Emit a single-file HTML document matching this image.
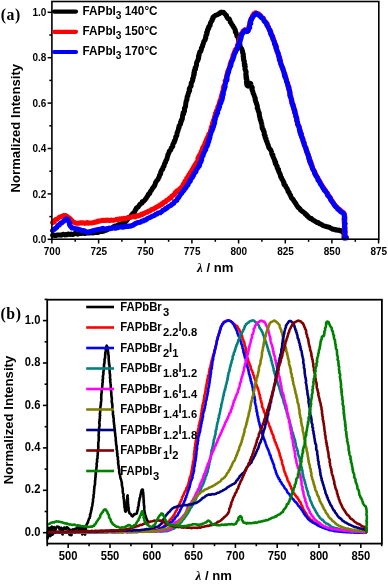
<!DOCTYPE html>
<html><head><meta charset="utf-8"><title>PL spectra</title><style>
*{margin:0;padding:0}
html,body{width:388px;height:585px;background:#fff;overflow:hidden}
svg{display:block;filter:blur(0.35px)}
text{font-family:"Liberation Sans",Arial,sans-serif;font-weight:bold;fill:#000}
.tka{font-size:9.6px}
.tkb{font-size:11.2px}
.lga{font-size:11.4px}
.suba{font-size:9px}
.lgb{font-size:11.2px}
.subb{font-size:9px}
.pl{font-family:"Liberation Serif","Times New Roman",serif;font-size:15px;font-weight:bold}
.yla{font-size:12.8px}
.ylb{font-size:11.4px}
.xla{font-size:12px}
.xlb{font-size:12px}
.lam{font-family:"Liberation Serif",serif;font-style:italic;font-weight:bold}
</style></head>
<body><svg width="388" height="585" viewBox="0 0 388 585">
<path d="M52.6 235.4 L53.7 235 L54.8 235.6 L55.9 235.5 L57 234.9 L58.1 235.1 L59.2 235 L60.3 235.1 L61.4 235.2 L62.5 234.5 L63.6 234.3 L64.7 235 L65.8 234.5 L66.9 234.8 L67.9 234 L69.1 234.3 L70.2 234.5 L71.2 234 L72.4 234.5 L73.5 234.4 L74.5 233.6 L75.6 233.5 L76.8 233.9 L77.9 234.2 L78.9 233.6 L80 233.4 L81.1 233.6 L82.2 233.2 L83.3 233.3 L84.4 233.4 L85.5 233.4 L86.6 233.1 L87.7 233 L88.8 232.9 L89.9 233 L91 232.8 L92.1 232.4 L93.2 233 L94.3 232.6 L95.4 232.6 L96.4 232 L97.6 232.5 L98.7 232.2 L99.7 231.4 L100.8 231.4 L101.9 231.5 L103 231.2 L104.1 231 L105 230.2 L106.2 230.2 L107.2 229.7 L108.1 229 L109.2 228.8 L110.3 228.6 L111.3 228.2 L112.2 227.5 L113.2 227.1 L114.1 226.3 L115.2 226 L116.4 226.1 L117.3 225.4 L118.2 224.7 L119.3 224.6 L120.4 224.3 L121.4 223.9 L122.3 223.2 L123.3 222.8 L124.3 222.3 L125.4 221.9 L126.2 221.1 L126.9 220.2 L127.6 219.5 L128 218.3 L128.6 217.5 L129.8 217 L130.7 216.4 L131.3 215.4 L132 214.5 L132.6 213.6 L133.5 213 L134.5 212.2 L134.9 211.2 L135.2 210.1 L136 209.4 L136.3 208.2 L137.2 207.5 L138.2 207 L138.8 206 L139.5 205.1 L140.1 204.2 L141.1 203.6 L142.1 203.1 L142.2 201.7 L143.5 201.3 L144.3 200.6 L145 199.8 L145.7 198.8 L146.4 198 L146.9 197 L147.6 196.1 L148.1 195.2 L148.4 194.1 L149.7 193.6 L150 192.5 L150.4 191.4 L151.2 190.6 L151.8 189.7 L152.3 188.7 L152.9 187.8 L153.6 187 L154.3 186.1 L154.8 185.1 L155.2 184.1 L155.4 182.9 L156 182 L156.5 181 L157.3 180.2 L158 179.3 L158.4 178.3 L158.9 177.3 L159.4 176.3 L159.5 175.1 L160.4 174.4 L160.7 173.3 L160.7 172.1 L161.2 171.1 L161.6 170.1 L162.7 169.4 L162.8 168.2 L163.1 167.1 L164 166.3 L164.2 165.2 L164.4 164.1 L164.9 163.1 L165.6 162.2 L165.7 161.1 L166.2 160.1 L166.9 159.2 L167.1 158.1 L167.3 157 L167.8 156 L167.8 154.8 L168.5 153.9 L168.9 152.9 L169.2 151.8 L169.6 150.8 L170.7 150.1 L171 149 L171.3 147.9 L172.2 147.1 L172.8 146.2 L172.7 144.9 L173.1 143.9 L173.6 143 L174.4 142.1 L174.3 140.9 L175.1 140 L175.4 139 L175.7 137.9 L175.7 136.8 L176.7 135.9 L176.9 134.8 L177 133.7 L177.1 132.6 L177.8 131.6 L177.9 130.5 L178.4 129.5 L178.5 128.4 L179.1 127.4 L179 126.2 L179.5 125.3 L180.4 124.4 L180.7 123.3 L180.6 122.1 L181.4 121.3 L181.3 120.1 L182.2 119.2 L182.4 118.1 L182.4 116.9 L182.6 115.9 L182.7 114.7 L183.7 113.9 L183.2 112.6 L184.2 111.7 L184.6 110.7 L184.5 109.5 L184.4 108.4 L185.2 107.4 L185.6 106.4 L185.6 105.3 L185.7 104.2 L185.8 103.1 L186.1 102 L186.2 100.9 L186.9 99.9 L187 98.8 L187 97.7 L187.2 96.6 L188 95.7 L187.9 94.5 L188.4 93.5 L188.6 92.4 L189.3 91.5 L189.7 90.4 L189.2 89.2 L189.7 88.1 L190.1 87.1 L191 86.3 L191.2 85.1 L191.1 84 L191.3 82.9 L192 82 L192.5 80.9 L192.8 79.9 L192.6 78.7 L193.3 77.7 L193.4 76.6 L193.5 75.5 L194.2 74.6 L193.8 73.3 L194.5 72.4 L194.2 71.2 L194.6 70.1 L195.5 69.2 L195.1 68 L195.9 67.1 L196.1 66 L196.6 65 L196.4 63.8 L196.7 62.7 L197 61.6 L197.8 60.7 L197.9 59.6 L198.5 58.7 L198.7 57.6 L198.4 56.3 L199.1 55.4 L199.1 54.2 L199.4 53.2 L199.7 52.1 L200.8 51.3 L201 50.2 L201.4 49.2 L201.4 48 L202 47.1 L202.6 46.1 L202.6 45 L203.2 44 L203.4 42.9 L203.7 41.8 L204.2 40.9 L205.1 40 L205.2 38.9 L205.8 37.9 L205.7 36.7 L205.9 35.6 L206.6 34.7 L207 33.7 L206.6 32.4 L207.5 31.5 L207.4 30.3 L207.8 29.3 L208.8 28.5 L208.5 27.2 L209.1 26.3 L210.1 25.5 L210.2 24.3 L210.4 23.2 L210.9 22.3 L211.5 21.3 L212.2 20.4 L212.1 19.2 L213.1 18.4 L213 17.2 L213.9 16.5 L214.6 16 L215.5 15.4 L216.5 15 L217.5 14.6 L218.4 13.8 L219.6 13.7 L220.2 12.7 L221.2 12.1 L222.4 12.6 L223.5 12.3 L224.2 13.2 L224.9 14 L225.7 14.8 L226.5 15.5 L226.7 16.8 L227.3 17.7 L228 18.6 L229.3 19 L229.8 20 L230.1 21.1 L230.3 22.2 L231.2 23 L231.6 24 L232.2 25 L233 25.8 L233.3 26.9 L234 27.7 L234.5 28.7 L235.1 29.6 L235.4 30.7 L235.3 32 L236.1 32.8 L236.4 33.9 L236.7 34.9 L236.9 36.1 L237.7 36.9 L238.1 37.9 L238.4 39 L238.8 40.1 L238.6 41.2 L238.8 42.3 L239.6 43.3 L239.9 44.3 L240 45.4 L240.3 46.5 L240.6 47.5 L241.3 48.4 L241.9 49.4 L242.2 50.5 L242.6 51.5 L242.6 52.7 L243.2 53.7 L243.4 54.7 L243.1 55.9 L243.6 57 L243.3 58.1 L243.8 59.2 L243.6 60.3 L244.4 61.3 L244.3 62.4 L244.2 63.5 L245 64.5 L244.4 65.7 L245.3 66.7 L245 67.9 L244.9 69 L245.3 70.1 L245.9 71.1 L246.2 72.2 L245.9 73.3 L245.7 74.4 L246.3 75.5 L245.9 76.6 L246.7 77.6 L246.1 78.8 L247 79.8 L246.8 80.9 L246.4 82.1 L246.6 83.2 L246.7 84.3 L247 85.4 L247.9 86 L248.4 84.9 L248.6 83.6 L249.7 83.2 L250.8 83.6 L250.9 84.8 L251.2 85.9 L251.8 86.8 L252.3 87.9 L251.8 89.1 L252.2 90.2 L252.7 91.2 L253 92.2 L253.1 93.3 L253.7 94.3 L254.1 95.3 L254.4 96.4 L254.8 97.4 L255.3 98.4 L255.1 99.6 L255.6 100.6 L255.7 101.7 L256.4 102.7 L256.5 103.8 L257 104.8 L257.3 105.9 L257.4 107 L257.2 108.2 L257.9 109.1 L258.2 110.2 L258.3 111.3 L258.9 112.3 L259.3 113.3 L259.2 114.5 L259.5 115.5 L259.6 116.6 L260 117.7 L260.1 118.8 L260.3 119.9 L261 120.8 L261.1 121.9 L261.3 123 L261.8 124 L261.9 125.1 L262.1 126.2 L262.1 127.4 L262.3 128.4 L263.2 129.3 L263.2 130.5 L264 131.4 L264.3 132.5 L264.2 133.6 L264.2 134.8 L265.2 135.6 L265 136.8 L265.2 137.9 L266.1 138.8 L266.1 140 L266.4 141 L267.1 141.9 L267.3 143.1 L267.7 144.1 L268.2 145 L268.4 146.2 L268.8 147.2 L269.2 148.2 L270 149.1 L270.7 149.9 L271.1 151 L271.6 152 L271.7 153.1 L271.9 154.2 L272.9 155 L272.8 156.2 L273.2 157.3 L273.9 158.2 L274.1 159.3 L274.8 160.2 L274.7 161.4 L275.7 162.2 L275.3 163.5 L275.9 164.5 L276.5 165.4 L277.2 166.3 L277.1 167.6 L277.5 168.6 L278.6 169.3 L278.4 170.6 L278.8 171.6 L279.4 172.6 L279.7 173.6 L280.4 174.5 L280.4 175.7 L280.7 176.8 L281.6 177.6 L281.7 178.8 L282.4 179.6 L283 180.6 L283.3 181.6 L284 182.5 L283.8 183.8 L284.3 184.8 L285.5 185.4 L285.7 186.6 L286.3 187.5 L287.1 188.4 L287.4 189.4 L287.9 190.4 L288 191.6 L289.1 192.3 L289.4 193.3 L289.8 194.4 L290.6 195.2 L290.7 196.4 L291.3 197.3 L291.7 198.3 L292.8 199 L293.4 199.9 L293.8 200.9 L294.6 201.7 L295 202.8 L295.9 203.5 L296.3 204.6 L296.8 205.5 L297.5 206.4 L298.1 207.4 L299.1 208 L299.9 208.8 L300.4 209.8 L301.2 210.5 L302.1 211.2 L303 211.8 L303.9 212.5 L304.8 213.1 L305.3 214.3 L306.5 214.5 L307 215.7 L307.9 216.2 L308.6 217.2 L309.5 217.7 L310.3 218.6 L311.6 218.6 L312.3 219.6 L313.2 220.2 L314.2 220.6 L315.1 221.4 L316.1 221.8 L317 222.5 L318.2 222.5 L319 223.4 L320 223.9 L321 224.2 L322 224.7 L322.8 225.5 L323.9 225.9 L325 226.1 L326 226.6 L327.1 226.8 L328.2 227 L329.3 227.2 L330.2 227.8 L331.2 228.4 L332.1 229 L333.2 229.3 L334.3 229.3 L335.3 230 L336.5 229.8 L337.5 230.3 L338.7 230.1 L339.7 230.6 L340.7 231 L341.9 230.6 L343.1 231 L343.4 232.1 L343.6 233.2 L343.9 234.3 L344.3 235.3 L344 236.5 L344 237.6 L344 238" stroke="#000" stroke-width="5.0" fill="none" stroke-linejoin="round" stroke-linecap="round"/>
<path d="M52.6 222.6 L53.7 222.2 L54.5 221.4 L54.8 220.1 L55.7 219.4 L57 219.3 L57.8 218.6 L58.7 217.9 L59.4 217.1 L60.5 216.8 L61.6 216.4 L62.6 216.1 L63.6 215.5 L64.8 215.6 L65.9 215.6 L66.8 216.1 L67.6 216.8 L68.4 217.5 L69.4 218 L70.2 218.8 L70.9 219.7 L71.7 220.4 L72.4 221.1 L73 222 L74.1 222.3 L75.1 222.6 L76.1 223.3 L77.3 223.1 L78.4 223.3 L79.5 223 L80.6 222.8 L81.7 223 L82.7 222.8 L83.9 223 L85 223.4 L86.1 223.1 L87.1 222.6 L88.3 223.2 L89.4 223.1 L90.5 223 L91.6 223.1 L92.7 222.8 L93.8 222.6 L94.8 222 L96 222.2 L97 221.9 L97.9 221 L99.1 221.2 L100.2 221 L101.2 220.6 L102.3 220.5 L103.4 220.3 L104.5 220.6 L105.6 220.2 L106.7 220.4 L107.8 220 L108.9 220.4 L110 220.5 L111.1 220.1 L112.2 220.2 L113.3 220.4 L114.4 220.1 L115.5 219.8 L116.5 219.4 L117.6 219.3 L118.8 219.5 L119.8 218.8 L121 219.3 L122 218.6 L123.1 219 L124.1 218.3 L125.3 218.7 L126.4 218.3 L127.4 217.9 L128.5 217.7 L129.6 217.6 L130.7 217.3 L131.7 216.8 L132.8 216.5 L133.9 216.7 L135 216.9 L136.1 216.4 L137 215.6 L138.3 215.9 L139.3 215.5 L140.4 215.3 L141.2 214.3 L142.4 214.4 L143.2 213.4 L144.4 213.5 L145.3 212.7 L146.3 212.2 L147.5 212.3 L148.2 211.2 L149.3 211 L150.4 210.8 L151.2 209.8 L152.2 209.3 L153.4 209.3 L154.2 208.5 L155.3 208.2 L156 207.1 L157.1 206.9 L158 206.2 L159.1 206 L159.8 205 L161.2 205.1 L161.6 203.8 L162.9 203.7 L163.4 202.6 L164.5 202.1 L165.6 201.9 L166.2 200.7 L167.1 200.1 L168.2 199.8 L168.9 198.9 L169.6 198 L171 198 L171.4 196.7 L172.1 195.9 L173.1 195.3 L174 194.7 L174.8 193.9 L175.1 192.7 L176 192.1 L176.6 191.1 L177.7 190.6 L178.6 190 L179.4 189.2 L180.3 188.6 L181 187.7 L181.8 187 L182.5 186.1 L183 185.1 L183.4 184 L184.3 183.3 L184.6 182.2 L185 181.1 L185.8 180.4 L186.7 179.6 L186.7 178.3 L187.6 177.6 L188 176.5 L188.7 175.7 L189 174.5 L190.2 174 L190.2 172.7 L191.1 172 L191.6 171 L191.9 169.8 L192.9 169.2 L193.1 168.1 L193.7 167.1 L194.2 166.2 L194.8 165.3 L195.3 164.3 L196.1 163.5 L196.5 162.4 L197.3 161.6 L197.7 160.5 L198.1 159.5 L197.9 158.2 L198.5 157.3 L198.8 156.2 L199.5 155.3 L200 154.4 L200.7 153.5 L201.1 152.5 L201.3 151.3 L201.9 150.4 L202.5 149.4 L202.5 148.2 L203 147.3 L203.8 146.4 L204 145.3 L204.9 144.5 L205 143.3 L205.3 142.3 L205.8 141.3 L206.2 140.3 L206.6 139.3 L207.3 138.3 L207.7 137.3 L208 136.2 L208.7 135.3 L208.7 134.2 L209.7 133.4 L210.2 132.4 L210.4 131.3 L210.6 130.2 L211 129.2 L211.5 128.2 L211.3 127 L212 126 L212.4 125 L212.4 123.9 L212.6 122.8 L213.5 121.9 L213.4 120.7 L213.8 119.7 L214.5 118.7 L214.5 117.6 L214.6 116.5 L215.5 115.6 L215.4 114.4 L215.4 113.3 L216.4 112.4 L216.3 111.2 L216.8 110.2 L217.6 109.4 L217.9 108.3 L217.7 107 L218.4 106.1 L218.7 105.1 L219.2 104.1 L219.3 103 L220 102 L219.9 100.8 L220.4 99.9 L220.8 98.8 L221.6 97.9 L221.2 96.7 L222 95.7 L221.8 94.6 L222.4 93.6 L222.5 92.5 L222.8 91.4 L223.3 90.4 L223.3 89.3 L223.3 88.1 L223.6 87.1 L223.8 86 L224.8 85.1 L224.9 84 L225.4 83 L225.5 81.9 L225.1 80.7 L225.9 79.7 L226.3 78.7 L226.5 77.6 L226.6 76.5 L226.7 75.4 L227.1 74.3 L227.6 73.3 L227.5 72.2 L228 71.2 L228.3 70.1 L229.1 69.2 L229.3 68.1 L229.8 67.1 L230.1 66.1 L230 64.9 L230.3 63.8 L230.9 62.8 L231 61.7 L231.5 60.7 L232 59.8 L232.6 58.8 L232.6 57.6 L233.2 56.7 L233 55.4 L233.6 54.5 L234.5 53.7 L234.2 52.3 L234.9 51.4 L235.1 50.3 L235.6 49.3 L236.7 48.6 L237.3 47.7 L237.4 46.5 L237.4 45.4 L237.9 44.4 L238.3 43.3 L239 42.4 L239.3 41.4 L239.4 40.2 L239.8 39.2 L239.8 38.1 L240.5 37.1 L241.2 36.2 L241.4 35.1 L241.3 33.9 L242.1 33 L242.8 32.2 L243 31 L244.1 30.5 L244.7 29.8 L245.5 30.6 L246.3 31.2 L247.4 31.5 L248.1 30.4 L248.4 29.3 L248.5 28.1 L249.1 27.2 L249 26.1 L249.7 25.1 L250.2 24.1 L249.7 22.9 L250.2 21.8 L250.5 20.8 L250.7 19.7 L251.3 18.7 L251.9 17.8 L252.2 16.8 L252.5 15.7 L253.5 15 L253.7 13.8 L254.7 13.3 L255.6 12.8 L256.5 13.1 L257.3 13.7 L258.6 13.8 L259.3 14.7 L260.3 15.3 L260.9 16.2 L261.5 17.1 L262.4 17.8 L263.5 18.3 L263.8 19.5 L264.3 20.5 L264.8 21.5 L265.6 22.2 L266.1 23.2 L267.3 23.8 L267.1 25.2 L267.7 26.1 L268.3 27 L268.5 28.1 L268.9 29.1 L270 29.9 L269.8 31.1 L270.3 32.1 L271.2 32.9 L271.2 34.1 L271.7 35.1 L272.5 36 L272.3 37.2 L273.3 38 L273.3 39.2 L273.8 40.2 L274.3 41.2 L274.4 42.3 L274.9 43.3 L275.4 44.3 L275.1 45.5 L276.2 46.3 L276.6 47.4 L276.5 48.6 L276.6 49.7 L277 50.7 L277.3 51.8 L277.8 52.8 L278 53.9 L278.6 54.8 L278.9 55.9 L279 57 L279.8 57.9 L280 59 L279.7 60.2 L280.6 61.1 L280.4 62.3 L280.7 63.4 L281.3 64.3 L281.4 65.5 L281.7 66.5 L282 67.6 L282.9 68.4 L283.3 69.5 L283.4 70.6 L283.7 71.7 L284.2 72.7 L284.8 73.6 L284.7 74.8 L284.7 76 L285.6 76.8 L285.8 77.9 L286.2 78.9 L286.5 80 L286.5 81.2 L287.3 82.1 L287.4 83.2 L287.8 84.2 L288.1 85.3 L288.1 86.4 L289.1 87.3 L288.7 88.5 L289.4 89.5 L289.3 90.6 L289.4 91.7 L289.7 92.8 L290.1 93.8 L289.9 95 L290.8 95.9 L290.6 97.1 L291 98.1 L291.2 99.2 L291.2 100.4 L291.6 101.4 L292 102.4 L292.6 103.4 L293 104.4 L293.1 105.5 L293.6 106.5 L293.9 107.6 L293.6 108.8 L294.6 109.7 L294.3 110.9 L294.9 111.9 L295.2 113 L295.5 114 L296 115 L295.9 116.2 L296.4 117.2 L296.5 118.3 L296.9 119.3 L296.6 120.5 L296.9 121.6 L297.6 122.6 L297.7 123.7 L297.8 124.8 L298.6 125.7 L299.1 126.7 L299.3 127.8 L299.7 128.8 L299.6 130 L300.2 131 L300.5 132 L300.5 133.2 L301.3 134.1 L301.2 135.3 L301.7 136.3 L302.3 137.2 L302.3 138.4 L303 139.3 L302.9 140.5 L303.2 141.5 L303.9 142.5 L304.1 143.6 L304.3 144.7 L304.8 145.7 L305.1 146.7 L305.4 147.8 L305.7 148.8 L306.2 149.8 L306.3 150.9 L307.3 151.8 L307.3 152.9 L307.6 154 L308.2 154.9 L308.6 156 L309.1 157 L308.8 158.2 L309.6 159.1 L309.8 160.2 L309.8 161.4 L310.8 162.2 L310.5 163.5 L311.6 164.3 L312 165.3 L312.2 166.4 L312.6 167.4 L312.5 168.6 L313 169.6 L313.6 170.6 L314.3 171.4 L314.7 172.5 L315.4 173.3 L315.4 174.6 L316.3 175.4 L316.9 176.3 L317.1 177.4 L318 178.2 L318.4 179.2 L318.4 180.5 L319.6 181.1 L320.1 182 L320.6 183 L321.1 184 L321.6 185 L322.3 185.8 L322.8 186.8 L323.5 187.7 L324.2 188.6 L324.5 189.7 L325.3 190.4 L325.9 191.4 L326.2 192.5 L327.4 193 L327.9 194 L328 195.3 L328.9 196 L329.3 197.1 L330.4 197.6 L330.7 198.8 L331 199.8 L332 200.5 L332.3 201.6 L333 202.5 L333.7 203.3 L333.9 204.5 L335 205.1 L335.7 206 L336.3 206.9 L337.3 207.5 L337.8 208.6 L338.8 209.1 L339.7 209.7 L340.6 210.3 L341.3 211.2 L342.1 211.9 L343 212.5 L344 213.1 L344.3 214.2 L344.3 215.3 L344.8 216.4 L344.8 217.5 L344 218.6 L344.8 219.7 L344.1 220.8 L344.4 221.9 L344.2 223 L344.9 224.1 L344.7 225.2 L344.3 226.3 L345 227.4 L344.9 228.5 L344.7 229.6 L344.9 230.7 L344.9 231.8 L344.5 232.9 L345 234 L344.4 235.1 L344.9 236.2 L345.8 236.6 L346.2 237" stroke="#ff0000" stroke-width="5.0" fill="none" stroke-linejoin="round" stroke-linecap="round"/>
<path d="M52.6 230.6 L53.3 229.7 L54.4 229.3 L55.1 228.5 L56.1 228 L57 227.2 L57.4 226.1 L58.1 225.3 L59.4 225 L59.9 223.9 L60.7 223.2 L62 222.9 L62.5 221.9 L63.6 221.5 L64.2 220.5 L65.2 220 L65.8 218.9 L67 218.9 L67.6 219.4 L68.4 220.1 L68.6 221.2 L69 222.2 L69.8 223.2 L69.4 224.4 L69.8 225.4 L70.4 226.3 L71.2 226.9 L71.8 228 L73 227.9 L74 228.3 L75.1 228.6 L76.2 228.7 L77.2 229.2 L78.4 229 L79.3 229.7 L80.4 229.7 L81.4 230.5 L82.4 230.7 L83.7 230.5 L84.7 230.9 L85.7 231.4 L86.6 232.3 L87.8 231.9 L88.9 232 L89.9 231.5 L91 231.4 L92 230.9 L93.1 230.6 L94.2 230.5 L95.2 230.1 L96.4 230.1 L97.3 229.5 L98.5 229.5 L99.5 229.2 L100.6 229.1 L101.6 228.7 L102.7 228.2 L103.8 228.8 L104.9 228.9 L106 228.9 L107.1 228.5 L108.2 228.6 L109.3 228.1 L110.4 228.7 L111.5 228.4 L112.6 228 L113.6 227.7 L114.8 228.3 L115.9 228.2 L116.9 227.2 L118.1 227.7 L119.1 227.1 L120.2 226.8 L121.3 226.8 L122.4 227.2 L123.5 227.2 L124.5 226.3 L125.7 226.7 L126.7 226 L127.9 226.5 L128.9 225.9 L130.1 226.2 L131.2 226 L132.1 225.3 L133.4 225.3 L134.1 224.3 L135 223.6 L136.2 223.5 L137 222.7 L138.1 222.5 L139.3 222.4 L140.4 222.2 L141.2 221.4 L142.2 220.9 L143.5 221.1 L144.2 220.1 L145.5 220.1 L146.4 219.5 L147.2 218.6 L148.2 218.2 L149.2 217.8 L150.2 217.4 L151.2 216.8 L152.2 216.3 L153.2 215.9 L154.3 215.6 L155.1 214.8 L156 214.2 L157.1 214 L158 213.1 L159 212.7 L160.2 212.8 L161 211.9 L162 211.4 L162.7 210.4 L163.8 210.1 L164.8 209.6 L165.3 208.5 L166.5 208.3 L167.4 207.7 L168.1 206.6 L169.2 206.4 L170.1 205.7 L171.1 205.2 L171.8 204.3 L172.9 203.9 L173.8 203.2 L174.2 202 L175 201.3 L176.1 200.9 L177 200.2 L177.2 198.9 L178 198.2 L178.8 197.4 L179.2 196.3 L179.9 195.5 L180.5 194.5 L181.2 193.7 L182 192.9 L182.4 191.9 L183.2 191 L184.1 190.4 L184.2 189.1 L185.3 188.5 L186 187.7 L186.4 186.6 L186.9 185.6 L188 185 L188.2 183.8 L188.7 182.9 L189.5 182.1 L190.3 181.2 L190.3 180 L191 179.1 L191.6 178.2 L192.5 177.4 L192.7 176.3 L193.6 175.5 L193.6 174.3 L194.3 173.4 L195.1 172.6 L195.9 171.8 L196.1 170.6 L196.5 169.6 L197 168.6 L197.9 167.9 L198.2 166.8 L199.2 166.1 L199.7 165.1 L199.6 163.8 L200.1 162.8 L200.9 162 L201.2 160.9 L201.7 159.9 L201.6 158.7 L201.8 157.6 L202.3 156.6 L203.1 155.8 L203.1 154.6 L203.6 153.6 L204.1 152.6 L204.5 151.6 L204.9 150.6 L205.8 149.7 L205.6 148.4 L205.8 147.4 L207 146.7 L207.3 145.6 L207.8 144.6 L207.7 143.4 L208.4 142.5 L208.8 141.4 L208.5 140.2 L209.3 139.3 L209.7 138.3 L209.9 137.2 L210.1 136.1 L210.3 135 L210.7 134 L211 132.9 L211.2 131.8 L212 130.9 L212.1 129.8 L212.8 128.9 L212.5 127.6 L213.5 126.8 L213.6 125.7 L214.1 124.6 L214.4 123.6 L214.7 122.5 L214.7 121.4 L214.5 120.2 L215.4 119.3 L215.2 118.1 L215.6 117.1 L216.3 116.1 L216.5 115 L216.8 114 L217.6 113.1 L217.7 111.9 L217.8 110.8 L218.1 109.8 L218.9 108.9 L219 107.7 L219.6 106.8 L219.6 105.6 L219.8 104.5 L220.4 103.6 L221 102.6 L220.8 101.4 L221.7 100.5 L222.1 99.5 L222.3 98.4 L222.6 97.3 L222.2 96.1 L223 95.2 L223.4 94.1 L223 92.9 L223.4 91.9 L223.7 90.8 L224.2 89.8 L224.4 88.7 L224.7 87.7 L225.2 86.7 L224.8 85.4 L225.1 84.4 L225.4 83.3 L225.7 82.2 L225.9 81.2 L226.9 80.3 L227.1 79.2 L226.6 78 L227.2 77 L227.3 75.8 L227.6 74.8 L227.9 73.7 L228.4 72.7 L228.7 71.7 L228.8 70.6 L229 69.5 L229.5 68.4 L229.7 67.3 L230.4 66.4 L230.9 65.4 L231 64.3 L231.1 63.2 L231.5 62.2 L232 61.2 L232.5 60.2 L233 59.2 L233 58 L233.7 57.1 L233.9 56 L234.1 54.9 L234.5 53.9 L235 52.9 L235.6 52 L235.9 50.9 L236.6 50 L236.8 48.9 L237.1 47.8 L237.8 46.9 L238.4 46 L238.2 44.7 L238.9 43.8 L239.2 42.8 L239.9 41.8 L240.3 40.8 L240.2 39.6 L240.9 38.7 L241.2 37.6 L241.1 36.4 L241.6 35.4 L241.7 34.3 L242.7 33.5 L243.1 32.5 L243.9 31.7 L244.4 30.8 L245.1 30.2 L245.8 30.8 L246.6 31.6 L247.4 31.2 L248.3 30.7 L248.3 29.5 L248.9 28.5 L249.8 27.7 L249.4 26.5 L249.7 25.4 L249.9 24.3 L250.8 23.4 L250.3 22.2 L250.4 21.1 L251.4 20.2 L251.2 18.9 L252.2 18.2 L252.6 17.2 L253.3 16.3 L254 15.5 L254.5 14.5 L255.4 14.1 L256.4 13.3 L257.2 14.4 L258.2 14.8 L259.1 15.5 L260.3 15.7 L260.7 16.9 L261.4 17.8 L262.7 18.1 L263.2 19.1 L263.7 20.1 L264.1 21.2 L265.2 21.7 L265.9 22.6 L266.5 23.5 L266.8 24.7 L267.2 25.7 L268 26.5 L268.5 27.5 L268.9 28.5 L269.4 29.5 L269.8 30.5 L270.5 31.4 L270.5 32.6 L270.6 33.8 L271.5 34.6 L271.6 35.7 L272.5 36.5 L272.5 37.7 L272.8 38.8 L273.3 39.8 L273.8 40.8 L274.2 41.8 L274.4 42.9 L274.5 44 L275.5 44.8 L275.9 45.9 L275.7 47.1 L275.9 48.2 L276.6 49.1 L277 50.1 L277 51.3 L277.8 52.2 L278.1 53.3 L278.4 54.3 L278.4 55.5 L279 56.4 L279.3 57.5 L279.2 58.6 L279.3 59.8 L280.2 60.7 L280.2 61.8 L280.7 62.8 L280.7 64 L281.2 64.9 L281.8 65.9 L282.2 66.9 L282.7 67.9 L282.7 69.1 L283.1 70.1 L283.7 71.1 L283.9 72.2 L284.2 73.2 L284.2 74.4 L285.1 75.3 L284.7 76.5 L285.5 77.4 L285.8 78.5 L286.2 79.5 L286.3 80.7 L286.6 81.7 L287.2 82.7 L287.6 83.7 L287.7 84.8 L287.9 85.9 L288.6 86.8 L288.6 88 L288.7 89.1 L289.3 90.1 L289.8 91.1 L290 92.2 L289.8 93.3 L290 94.4 L289.9 95.6 L290.2 96.6 L291 97.6 L291.3 98.6 L291.5 99.7 L291.9 100.7 L291.7 101.9 L291.9 103 L292.2 104.1 L293.1 105 L292.8 106.2 L293.6 107.1 L293.8 108.2 L293.9 109.3 L294.7 110.2 L295 111.3 L294.6 112.5 L295.3 113.5 L295.6 114.6 L295.6 115.7 L295.8 116.8 L296.7 117.7 L296.7 118.8 L296.8 119.9 L297.1 121 L297.6 122 L297.6 123.1 L297.5 124.3 L298.3 125.2 L298.5 126.3 L299.2 127.3 L299.3 128.4 L299.3 129.5 L300.1 130.4 L299.8 131.7 L300.1 132.7 L301.2 133.5 L300.8 134.8 L301.6 135.7 L301.6 136.8 L302 137.9 L302.8 138.8 L302.8 139.9 L303.2 141 L303.4 142.1 L304.2 143 L304.1 144.1 L304.3 145.2 L304.9 146.2 L305.4 147.2 L306.1 148.1 L306.1 149.3 L306.6 150.3 L306.6 151.4 L307 152.5 L307.4 153.5 L308.1 154.4 L308.1 155.6 L308.4 156.6 L309.1 157.5 L308.9 158.8 L309.4 159.8 L310.2 160.7 L309.8 161.9 L310.9 162.8 L311 163.9 L311.1 165 L311.6 166 L312 167 L312.3 168.1 L312.9 169 L313.5 170 L314.1 170.9 L314.6 171.9 L314.5 173.1 L315 174.1 L315.6 175 L316 176.1 L316.8 176.9 L317.4 177.9 L317.8 178.9 L317.9 180.1 L319.1 180.7 L319.3 181.8 L320 182.7 L320.2 183.9 L321 184.6 L321.6 185.5 L322.2 186.5 L322.6 187.5 L323.1 188.5 L324 189.2 L324.3 190.4 L325.4 190.9 L325.9 191.9 L326.7 192.7 L327.3 193.7 L327.4 194.9 L328 195.8 L329 196.5 L329.7 197.4 L330.1 198.4 L330.5 199.5 L331 200.4 L331.7 201.3 L332.4 202.2 L333.3 202.9 L333.7 203.9 L334.4 204.7 L334.8 205.8 L335.5 206.7 L336.5 207.3 L337.2 208.1 L337.7 209.2 L338.9 209.4 L339.4 210.6 L340.3 211.3 L341.1 212 L342.3 212.2 L343.1 213 L343.8 213.8 L344.3 214.8 L344.1 215.9 L344.4 216.9 L344.8 218 L344.3 219.1 L344.7 220.2 L344.6 221.3 L344.5 222.4 L345.2 223.5 L344.5 224.6 L344.6 225.7 L344.7 226.8 L344.7 227.9 L344.8 229 L345 230.1 L344.8 231.2 L345.2 232.3 L344.8 233.4 L344.7 234.5 L344.9 235.6 L345.1 236.7 L345.1 238 L346.4 238" stroke="#0000ff" stroke-width="5.0" fill="none" stroke-linejoin="round" stroke-linecap="round"/>
<rect x="51.9" y="1.5" width="326.9" height="237.7" fill="none" stroke="#000" stroke-width="1.6"/>
<line x1="51.9" y1="239.2" x2="51.9" y2="243.5" stroke="#000" stroke-width="1.5"/>
<text transform="translate(52.10,254.60) scale(1,1.13)" style="font-size:10.0px" text-anchor="middle" >700</text>
<line x1="75.2" y1="239.2" x2="75.2" y2="241.8" stroke="#000" stroke-width="1.5"/>
<line x1="98.6" y1="239.2" x2="98.6" y2="243.5" stroke="#000" stroke-width="1.5"/>
<text transform="translate(98.77,254.60) scale(1,1.13)" style="font-size:10.0px" text-anchor="middle" >725</text>
<line x1="121.9" y1="239.2" x2="121.9" y2="241.8" stroke="#000" stroke-width="1.5"/>
<line x1="145.2" y1="239.2" x2="145.2" y2="243.5" stroke="#000" stroke-width="1.5"/>
<text transform="translate(145.45,254.60) scale(1,1.13)" style="font-size:10.0px" text-anchor="middle" >750</text>
<line x1="168.6" y1="239.2" x2="168.6" y2="241.8" stroke="#000" stroke-width="1.5"/>
<line x1="191.9" y1="239.2" x2="191.9" y2="243.5" stroke="#000" stroke-width="1.5"/>
<text transform="translate(192.12,254.60) scale(1,1.13)" style="font-size:10.0px" text-anchor="middle" >775</text>
<line x1="215.3" y1="239.2" x2="215.3" y2="241.8" stroke="#000" stroke-width="1.5"/>
<line x1="238.6" y1="239.2" x2="238.6" y2="243.5" stroke="#000" stroke-width="1.5"/>
<text transform="translate(238.80,254.60) scale(1,1.13)" style="font-size:10.0px" text-anchor="middle" >800</text>
<line x1="261.9" y1="239.2" x2="261.9" y2="241.8" stroke="#000" stroke-width="1.5"/>
<line x1="285.3" y1="239.2" x2="285.3" y2="243.5" stroke="#000" stroke-width="1.5"/>
<text transform="translate(285.47,254.60) scale(1,1.13)" style="font-size:10.0px" text-anchor="middle" >825</text>
<line x1="308.6" y1="239.2" x2="308.6" y2="241.8" stroke="#000" stroke-width="1.5"/>
<line x1="331.9" y1="239.2" x2="331.9" y2="243.5" stroke="#000" stroke-width="1.5"/>
<text transform="translate(332.15,254.60) scale(1,1.13)" style="font-size:10.0px" text-anchor="middle" >850</text>
<line x1="355.3" y1="239.2" x2="355.3" y2="241.8" stroke="#000" stroke-width="1.5"/>
<line x1="378.6" y1="239.2" x2="378.6" y2="243.5" stroke="#000" stroke-width="1.5"/>
<text transform="translate(378.82,254.60) scale(1,1.13)" style="font-size:10.0px" text-anchor="middle" >875</text>
<line x1="51.9" y1="239.3" x2="47.6" y2="239.3" stroke="#000" stroke-width="1.5"/>
<text transform="translate(46.30,242.90) scale(1,1.13)" style="font-size:10.0px" text-anchor="end" >0.0</text>
<line x1="51.9" y1="216.6" x2="49.3" y2="216.6" stroke="#000" stroke-width="1.5"/>
<line x1="51.9" y1="193.9" x2="47.6" y2="193.9" stroke="#000" stroke-width="1.5"/>
<text transform="translate(46.30,197.50) scale(1,1.13)" style="font-size:10.0px" text-anchor="end" >0.2</text>
<line x1="51.9" y1="171.2" x2="49.3" y2="171.2" stroke="#000" stroke-width="1.5"/>
<line x1="51.9" y1="148.5" x2="47.6" y2="148.5" stroke="#000" stroke-width="1.5"/>
<text transform="translate(46.30,152.10) scale(1,1.13)" style="font-size:10.0px" text-anchor="end" >0.4</text>
<line x1="51.9" y1="125.8" x2="49.3" y2="125.8" stroke="#000" stroke-width="1.5"/>
<line x1="51.9" y1="103.1" x2="47.6" y2="103.1" stroke="#000" stroke-width="1.5"/>
<text transform="translate(46.30,106.70) scale(1,1.13)" style="font-size:10.0px" text-anchor="end" >0.6</text>
<line x1="51.9" y1="80.4" x2="49.3" y2="80.4" stroke="#000" stroke-width="1.5"/>
<line x1="51.9" y1="57.7" x2="47.6" y2="57.7" stroke="#000" stroke-width="1.5"/>
<text transform="translate(46.30,61.30) scale(1,1.13)" style="font-size:10.0px" text-anchor="end" >0.8</text>
<line x1="51.9" y1="35.0" x2="49.3" y2="35.0" stroke="#000" stroke-width="1.5"/>
<line x1="51.9" y1="12.3" x2="47.6" y2="12.3" stroke="#000" stroke-width="1.5"/>
<text transform="translate(46.30,15.90) scale(1,1.13)" style="font-size:10.0px" text-anchor="end" >1.0</text>
<line x1="54" y1="11.6" x2="76" y2="11.6" stroke="#000" stroke-width="4.2" stroke-linecap="round"/>
<text transform="translate(82.60,14.80) scale(1,1.08)" style="font-size:11.75px" text-anchor="start" >FAPbI<tspan style="font-size:10.2px" dy="3.7">3</tspan><tspan dy="-3.7"> 140°C</tspan></text>
<line x1="54" y1="31.799999999999997" x2="76" y2="31.799999999999997" stroke="#ff0000" stroke-width="4.2" stroke-linecap="round"/>
<text transform="translate(82.60,35.00) scale(1,1.08)" style="font-size:11.75px" text-anchor="start" >FAPbI<tspan style="font-size:10.2px" dy="3.7">3</tspan><tspan dy="-3.7"> 150°C</tspan></text>
<line x1="54" y1="52.0" x2="76" y2="52.0" stroke="#0000ff" stroke-width="4.2" stroke-linecap="round"/>
<text transform="translate(82.60,55.20) scale(1,1.08)" style="font-size:11.75px" text-anchor="start" >FAPbI<tspan style="font-size:10.2px" dy="3.7">3</tspan><tspan dy="-3.7"> 170°C</tspan></text>
<text transform="translate(0.70,19.60)" style="font-size:15.8px" text-anchor="start" class="pl" letter-spacing="0.6">(a)</text>
<text transform="translate(19.5,128.2) rotate(-90)" style="font-size:13.15px" text-anchor="middle">Normalized Intensity</text>
<text transform="translate(197.00,271.90)" style="font-size:13.1px" text-anchor="start" ><tspan class="lam">λ</tspan> / nm</text>
<path d="M47.6 538.5 L47.7 537.4 L47.8 536.3 L48.1 535.2 L48 534.1 L48.1 533 L48.2 531.9 L48.2 530.8 L48.5 529.7 L48.7 528.7 L48.9 527.7 L49.3 528.4 L49.4 529.5 L49.6 530.6 L49.3 531.7 L49.5 532.8 L49.9 533.8 L49.6 535 L50 536.2 L50.7 535.7 L50.9 534.6 L50.8 533.5 L50.8 532.4 L51.2 531.3 L51 530.2 L51.2 529.1 L51.3 528 L51.4 526.9 L51.8 526.7 L51.9 527.8 L51.9 528.9 L52.1 530 L52.1 531.1 L52.3 532.2 L52.3 533.3 L52.5 534.4 L52.6 534.7 L53.2 533.7 L53.4 532.6 L53.4 531.5 L53.5 530.4 L53.5 529.3 L53.7 528.2 L54.2 527.1 L54.9 527.9 L54.8 529.1 L55.3 530 L55.8 529.6 L55.9 528.5 L56.6 527.5 L57 526.6 L57.7 526.7 L58.3 526.9 L58.9 527 L59.3 527.9 L59.4 529.1 L60.1 529.6 L60.5 528.6 L61.2 527.7 L61.5 528.2 L61.9 529.2 L62.1 530.3 L62.1 531.4 L61.9 532.5 L62.2 533.6 L62.6 534.5 L62.6 533.8 L62.7 532.7 L62.8 531.7 L63.3 530.6 L63.2 529.5 L63.6 528.5 L64.2 527.5 L65.2 527.9 L65.5 529 L66.1 529.2 L66.6 528.3 L66.9 527.1 L67.7 527.9 L68.5 528.5 L69 529.6 L68.8 530.7 L69 531.8 L69.4 532.8 L69.2 534 L69.7 534.9 L69.8 534.1 L70.2 533 L70.3 531.9 L70.1 530.8 L70.7 529.9 L70.9 530.1 L71 531.2 L70.9 532.3 L71.2 533.4 L71.4 534.5 L71.5 535.2 L71.6 534.3 L71.9 533.3 L71.9 532.2 L72.2 531.1 L72.3 530 L72.8 529.4 L73.6 530.1 L74.4 529.1 L75.2 528.9 L75.9 529.9 L76.4 528.9 L76.8 527.9 L77.6 527.1 L77.9 526.9 L78.5 527.8 L78.8 528.8 L79.3 529.8 L80.2 529.1 L80.3 527.9 L81 527 L81.2 526.2 L81.4 527 L81.7 528.1 L81.9 529.2 L82.1 530.3 L81.7 531.4 L82.1 532.5 L82.1 533.6 L82.3 534.4 L82.8 533.5 L82.8 532.4 L82.8 531.3 L82.9 530.2 L83.4 529.1 L83.3 528 L83.9 527 L84.2 528.1 L84.2 529.2 L84.4 530.3 L84.7 531.4 L84.4 532.5 L84.9 533.6 L85.1 534.6 L85 534.6 L85.3 533.6 L85.3 532.5 L85.4 531.4 L85.7 530.3 L85.9 529.2 L85.7 528.1 L85.9 527 L86.2 525.9 L86.5 524.9 L86.9 523.9 L87.5 523.1 L88 522.1 L88.2 521 L88.6 519.9 L88.9 518.9 L89.7 518 L89.8 516.9 L90.3 515.8 L90 514.7 L90.6 513.6 L90.8 512.6 L91.1 511.5 L91.1 510.4 L91.7 509.4 L91.5 508.2 L91.9 507.2 L92.2 506.1 L92.4 505 L92.5 503.9 L92.7 502.8 L92.9 501.8 L93.1 500.7 L92.9 499.5 L93.2 498.5 L93.5 497.4 L93.6 496.3 L93.5 495.2 L93.8 494.1 L94 493 L93.9 491.9 L94.1 490.8 L94.1 489.7 L94.3 488.6 L94.4 487.5 L94.3 486.4 L94.7 485.4 L95 484.3 L95 483.2 L95.1 482.1 L95 481 L95.3 479.9 L95.3 478.8 L95.4 477.7 L95.7 476.6 L95.4 475.5 L95.9 474.4 L95.6 473.3 L96 472.2 L96.1 471.1 L96.1 470 L96.4 468.9 L96.4 467.8 L96.6 466.8 L96.8 465.7 L96.6 464.5 L96.6 463.4 L96.9 462.4 L97.2 461.3 L97 460.2 L97.1 459.1 L97.6 458 L97.5 456.9 L97.5 455.8 L97.8 454.7 L97.7 453.6 L97.9 452.5 L97.7 451.4 L97.9 450.3 L98.2 449.2 L98.3 448.1 L98.4 447 L98.2 445.9 L98.3 444.8 L98.3 443.7 L98.2 442.6 L98.5 441.5 L98.7 440.4 L98.7 439.3 L98.7 438.2 L98.9 437.1 L98.6 436 L98.6 434.9 L98.8 433.8 L98.8 432.7 L98.8 431.6 L99 430.5 L99.2 429.4 L99.2 428.3 L99.1 427.2 L99.5 426.2 L99.6 425.1 L99.4 424 L99.3 422.8 L99.3 421.7 L99.8 420.7 L99.5 419.5 L99.9 418.5 L99.9 417.4 L99.8 416.3 L100.2 415.2 L99.8 414.1 L100 413 L100.2 411.9 L100.1 410.8 L100.5 409.7 L100.3 408.6 L100.4 407.5 L100.4 406.4 L100.8 405.3 L100.8 404.2 L100.9 403.1 L101 402 L101.2 400.9 L101.3 399.8 L101.3 398.7 L101.1 397.6 L101.4 396.5 L101.3 395.4 L101.3 394.3 L101.6 393.2 L101.8 392.1 L101.6 391 L101.8 389.9 L101.9 388.8 L102.2 387.8 L102.2 386.7 L102.3 385.6 L102.5 384.5 L102.4 383.4 L102.7 382.3 L102.8 381.2 L102.5 380.1 L103 379 L103 377.9 L102.8 376.8 L103.1 375.7 L103.2 374.6 L103.5 373.5 L103.3 372.4 L103.5 371.3 L103.8 370.2 L103.8 369.1 L104 368 L103.9 366.9 L104.1 365.8 L103.9 364.7 L104.3 363.7 L104.5 362.6 L104.5 361.5 L104.6 360.4 L104.5 359.3 L105 358.2 L105.1 357.1 L105.2 356 L105.1 354.9 L105.4 353.8 L105.3 352.7 L105.7 351.6 L105.8 350.5 L105.7 349.4 L105.7 348.3 L106.1 347.3 L106.5 346.2 L106.7 345.7 L107.1 346.7 L107.7 347.7 L107.4 348.8 L108 349.9 L107.8 351 L108.2 352.1 L108.3 353.2 L108.2 354.3 L108.6 355.3 L108.7 356.4 L108.7 357.6 L108.7 358.7 L108.7 359.8 L108.9 360.8 L108.8 362 L109.2 363 L109 364.1 L109.5 365.2 L109.5 366.3 L109.5 367.4 L109.7 368.5 L109.5 369.6 L109.6 370.7 L109.7 371.8 L109.7 372.9 L109.9 374 L110.1 375.1 L110.1 376.2 L110 377.3 L110 378.4 L110.4 379.5 L110.2 380.6 L110.2 381.7 L110.5 382.8 L110.6 383.9 L110.8 385 L110.7 386.1 L110.8 387.2 L110.9 388.3 L111.2 389.3 L110.9 390.5 L111.2 391.6 L111.3 392.7 L111.2 393.8 L111.4 394.9 L111.5 395.9 L111.5 397.1 L111.9 398.1 L111.8 399.2 L111.9 400.3 L111.7 401.4 L111.8 402.5 L112.3 403.6 L112.2 404.7 L112.5 405.8 L112.4 406.9 L112.3 408 L112.4 409.1 L112.7 410.2 L112.9 411.3 L113 412.4 L112.9 413.5 L112.9 414.6 L113.4 415.7 L113.2 416.8 L113.6 417.8 L113.7 418.9 L113.8 420 L113.6 421.2 L113.9 422.2 L114 423.3 L114 424.4 L114.4 425.5 L114.2 426.6 L114.6 427.7 L114.5 428.8 L114.8 429.9 L114.9 431 L114.9 432.1 L115.1 433.2 L115.2 434.3 L115.3 435.4 L115.4 436.5 L115.7 437.5 L115.8 438.6 L115.7 439.7 L115.8 440.8 L116 441.9 L116 443 L116.2 444.1 L116.2 445.2 L116.7 446.3 L116.6 447.4 L116.6 448.5 L116.7 449.6 L117.1 450.7 L117.2 451.7 L117 452.9 L117.5 453.9 L117.2 455.1 L117.4 456.2 L117.9 457.2 L117.9 458.3 L117.8 459.4 L118.1 460.5 L118.3 461.6 L118 462.7 L118.3 463.8 L118.3 464.9 L118.7 466 L118.7 467.1 L118.7 468.2 L119.2 469.2 L119.2 470.3 L119.2 471.5 L119.2 472.6 L119.4 473.6 L120 474.7 L120.1 475.8 L120.2 476.9 L120.5 477.9 L120.7 479 L121.2 480 L121.4 481.1 L121.7 482.2 L121.9 483.3 L121.8 484.4 L122 485.5 L122.2 486.6 L122.5 487.6 L122.7 488.7 L122.8 489.8 L122.7 490.9 L122.8 492 L122.9 493.1 L123.5 494.1 L123.6 495.2 L123.3 496.4 L123.7 497.5 L123.6 498.6 L124 499.6 L124 500.7 L124.1 501.8 L124.2 502.9 L124.2 504 L124.6 505.1 L124.4 506.2 L124.5 507.3 L124.9 508.4 L125 509.5 L125 510.6 L125.5 511.6 L125.8 511.6 L126 510.6 L126.3 509.5 L126.1 508.4 L126.6 507.3 L126.7 506.2 L126.7 505.1 L126.9 504 L126.8 502.9 L126.8 501.8 L127 500.7 L127 499.6 L127.3 498.6 L127.4 497.5 L127.2 496.3 L127.7 495.3 L127.5 495.9 L127.6 496.9 L127.7 498 L128 499.1 L127.8 500.2 L127.8 501.3 L128 502.4 L128 503.5 L128.1 504.6 L128.3 505.7 L128.2 506.8 L128.7 507.9 L128.6 509 L128.6 510.1 L128.9 511.1 L129.1 512.2 L129.4 513.2 L130.4 513.8 L131.2 514.5 L131.5 515.6 L132.4 516.4 L133.2 515.7 L133.9 514.9 L134.4 514 L135.4 514.1 L136.3 513.8 L137 513 L137.1 511.9 L137.4 510.8 L137.7 509.7 L138.1 508.7 L137.9 507.5 L138.4 506.5 L138.7 505.4 L138.6 504.3 L138.9 503.2 L138.9 502.1 L139.2 501 L139.5 500 L139.5 498.9 L139.8 497.8 L140.3 496.8 L140.4 495.7 L140.5 494.6 L141 493.5 L141 492.4 L141.4 491.4 L141.6 490.3 L142.1 489.5 L142.9 489.8 L142.9 491 L142.9 492.1 L143.4 493.2 L143.1 494.3 L143.5 495.4 L143.4 496.5 L143.6 497.6 L143.6 498.7 L143.6 499.8 L143.9 500.9 L143.6 502 L143.9 503.1 L143.9 504.2 L144 505.3 L144.2 506.4 L144.3 507.5 L144.2 508.6 L144.3 509.7 L144.5 510.7 L144.5 511.9 L144.8 512.9 L145.1 514 L145.3 515.1 L145.6 516.1 L146 517.1 L146.2 518.2 L146.8 519.1 L147.1 520.2 L147.7 521.2 L148 521.5" stroke="#000" stroke-width="2.6" fill="none" stroke-linejoin="round" stroke-linecap="round"/>
<path d="M47.8 532.5 L48.9 532.5 L50 532.6 L51.1 532.6 L52.2 532.3 L53.3 532.2 L54.4 532.4 L55.5 532.3 L56.6 532.6 L57.7 532.5 L58.8 532.5 L59.9 532.4 L61 532.5 L62.1 532.2 L63.2 532.3 L64.3 532.2 L65.4 532.6 L66.5 532.1 L67.6 532.5 L68.7 532.1 L69.8 532.4 L70.9 532.2 L72 532.2 L73.1 532.5 L74.2 532 L75.3 532 L76.4 532.5 L77.5 532.3 L78.6 532 L79.7 532.5 L80.8 532.5 L81.9 532 L83 532.2 L84.1 532 L85.2 532.1 L86.3 532.2 L87.4 532 L88.5 532.3 L89.6 531.9 L90.7 531.9 L91.8 532.3 L92.9 532 L94 532 L95.1 532.1 L96.2 532 L97.3 532 L98.4 531.7 L99.5 532.1 L100.6 532.3 L101.7 532.3 L102.8 532 L103.9 531.8 L105 531.8 L106.1 532 L107.2 532 L108.3 531.6 L109.4 531.7 L110.5 531.7 L111.6 531.8 L112.7 531.9 L113.8 531.7 L114.9 531.4 L116 531.9 L117.1 531.6 L118.2 531.6 L119.3 531.4 L120.4 531.5 L121.5 531.5 L122.6 531.7 L123.7 531.2 L124.8 531.5 L125.9 531.2 L127 531.5 L128.1 531.1 L129.2 531.2 L130.3 531.2 L131.4 531.4 L132.5 531 L133.6 531.2 L134.7 531 L135.8 531 L136.9 531.1 L138 531.3 L139.1 531 L140.2 531.3 L141.3 530.8 L142.4 531.2 L143.5 530.8 L144.6 530.7 L145.7 531 L146.8 531 L147.9 530.4 L149 530.5 L150.1 530.8 L151.2 530.4 L152.2 530.2 L153.3 529.9 L154.4 529.8 L155.5 529.9 L156.7 529.9 L157.7 529.6 L158.7 529 L159.6 528.3 L160.7 528 L161.8 527.8 L162.7 527.2 L163.6 526.5 L164.3 525.7 L165.3 525.1 L166.1 524.4 L166.9 523.6 L167.5 522.7 L168.5 522.1 L169.2 521.2 L169.6 520.1 L170.4 519.3 L171.4 518.7 L171.8 517.6 L172.8 517 L173.2 516 L173.9 515.1 L174.5 514.2 L174.8 513.1 L175.4 512.1 L175.9 511.2 L176.6 510.3 L177.1 509.3 L177.2 508.2 L178.1 507.4 L178.3 506.3 L178.7 505.2 L179.2 504.3 L180 503.4 L180.2 502.3 L180.7 501.3 L181.2 500.3 L181.7 499.3 L182 498.3 L182.2 497.2 L182.8 496.2 L183.4 495.3 L183.8 494.3 L184.2 493.2 L184.6 492.2 L185.1 491.2 L185.8 490.3 L186.2 489.3 L186.3 488.2 L187.1 487.3 L187.6 486.3 L187.9 485.2 L188.3 484.2 L188.6 483.2 L188.8 482 L189.2 481 L189.3 479.9 L189.5 478.8 L189.9 477.8 L190.2 476.7 L190.8 475.8 L190.9 474.7 L191.1 473.6 L191.4 472.5 L191.4 471.4 L191.8 470.3 L192.1 469.3 L192.1 468.2 L192.2 467.1 L192.5 466 L192.6 464.9 L193 463.9 L192.9 462.7 L193 461.6 L193.3 460.6 L193.6 459.5 L193.8 458.4 L193.9 457.3 L194.2 456.2 L194 455.1 L193.9 454 L194.3 452.9 L194.4 451.8 L194.4 450.7 L194.8 449.7 L194.7 448.5 L194.8 447.4 L195 446.4 L195.6 445.3 L195.2 444.2 L195.5 443.1 L195.6 442 L195.8 440.9 L196.1 439.8 L196.2 438.7 L196.8 437.7 L196.8 436.6 L197.1 435.6 L197 434.4 L197.3 433.4 L197.6 432.3 L198 431.3 L197.9 430.1 L198.2 429.1 L198.7 428 L198.9 426.9 L198.7 425.8 L199.1 424.8 L199.5 423.7 L199.5 422.6 L199.9 421.5 L200.1 420.5 L200.5 419.4 L200.5 418.3 L200.7 417.2 L200.8 416.1 L201.2 415.1 L201.1 413.9 L201.5 412.9 L201.6 411.8 L201.7 410.7 L201.8 409.6 L202.1 408.5 L202.4 407.5 L202.4 406.3 L202.5 405.2 L203.1 404.2 L203 403.1 L203.6 402.1 L203.6 401 L203.7 399.9 L204.1 398.8 L204.4 397.7 L204.2 396.6 L204.3 395.5 L204.8 394.5 L205.1 393.4 L205.2 392.3 L205.5 391.2 L205.5 390.1 L205.8 389.1 L205.8 387.9 L206.1 386.9 L206.3 385.8 L206.5 384.7 L206.7 383.6 L207.1 382.6 L207 381.5 L207.2 380.4 L207.4 379.3 L208.1 378.3 L208 377.2 L207.9 376 L208.6 375.1 L208.9 374 L209.1 372.9 L209 371.8 L209.5 370.7 L209.5 369.6 L209.6 368.5 L210.3 367.6 L210.6 366.5 L210.5 365.3 L211.1 364.4 L210.9 363.2 L211.4 362.1 L211.5 361 L211.9 360 L212.1 358.9 L212.7 358 L212.8 356.8 L213 355.7 L213.3 354.7 L213.6 353.6 L214.2 352.7 L214.3 351.6 L214.3 350.4 L214.9 349.4 L215.1 348.3 L215.3 347.3 L215.6 346.2 L216 345.2 L216.3 344.1 L216.4 343 L216.7 341.9 L216.9 340.9 L217.3 339.8 L217.4 338.7 L217.7 337.6 L218 336.6 L218.4 335.6 L218.5 334.4 L219.2 333.5 L219.2 332.4 L219.7 331.4 L219.9 330.3 L220.4 329.3 L220.6 328.2 L220.8 327.1 L221.2 326.1 L221.8 325.1 L222.3 324.2 L223 323.4 L223.5 322.3 L224.4 321.6 L225.4 321.1 L226.5 320.8 L227.6 320.5 L228.7 320.4 L229.8 320.8 L230.9 321.2 L231.7 322 L232.6 322.6 L233.4 323.4 L234.2 324.1 L235.1 324.8 L235.8 325.6 L237 326 L237.6 326.9 L237.9 328 L238.7 328.8 L239.4 329.7 L239.5 330.9 L240.2 331.8 L240.6 332.8 L241.2 333.8 L241.6 334.8 L242.1 335.7 L242.3 336.9 L242.4 338 L242.8 339 L243.3 340 L243.5 341.1 L244.2 342 L244.5 343.1 L244.4 344.2 L244.8 345.3 L245 346.4 L245.6 347.4 L245.7 348.5 L245.7 349.6 L245.8 350.7 L245.9 351.8 L246.2 352.9 L246.7 353.9 L246.9 355 L246.8 356.1 L247 357.2 L247.6 358.2 L248 359.2 L248.1 360.3 L248.5 361.3 L249 362.3 L249.4 363.4 L249.7 364.4 L249.9 365.5 L250.6 366.4 L250.7 367.6 L250.9 368.7 L251.4 369.7 L252 370.6 L252.3 371.7 L252.9 372.6 L252.9 373.8 L253.3 374.8 L254 375.7 L254.1 376.8 L254.4 377.9 L254.8 378.9 L255.2 380 L255.6 381 L255.8 382.1 L255.7 383.3 L256.4 384.2 L256.6 385.3 L257 386.3 L257.5 387.3 L257.7 388.4 L258.2 389.4 L258.5 390.5 L258.8 391.5 L259.1 392.6 L259.1 393.7 L259.7 394.7 L259.9 395.8 L260 396.9 L260.4 397.9 L260.5 399 L260.7 400.1 L261.3 401.1 L261.2 402.3 L261.8 403.2 L262 404.3 L262 405.5 L262.1 406.6 L262.6 407.6 L263.2 408.5 L263.4 409.6 L263.9 410.6 L263.9 411.8 L264.7 412.7 L265 413.7 L265.2 414.8 L265.6 415.9 L266 416.9 L266.4 417.9 L266.6 419 L267.2 419.9 L267.4 421.1 L268.1 422 L268.4 423 L268.9 424 L269.1 425.1 L269.4 426.2 L270.1 427.1 L270.3 428.2 L270.6 429.2 L271.1 430.2 L271.4 431.3 L271.8 432.3 L272.1 433.4 L272.7 434.3 L273.1 435.4 L273.6 436.3 L273.5 437.6 L274 438.6 L274.6 439.5 L274.6 440.7 L275 441.7 L275.8 442.6 L275.8 443.8 L276.4 444.7 L276.8 445.7 L277.2 446.8 L277.5 447.8 L278 448.8 L278.4 449.8 L278.7 450.9 L279 452 L279.4 453 L279.8 454 L279.7 455.2 L280.3 456.1 L280.6 457.2 L280.9 458.3 L281 459.4 L281.8 460.3 L282 461.4 L282 462.5 L282.2 463.6 L282.5 464.7 L283 465.7 L283.3 466.7 L283.7 467.8 L283.6 468.9 L284 470 L284.4 471 L284.6 472.1 L285.3 473 L285.5 474.1 L285.7 475.2 L286.5 476.1 L286.6 477.2 L287.3 478.1 L287.3 479.3 L287.7 480.3 L288.3 481.3 L288.8 482.3 L289.5 483.2 L289.6 484.3 L290.1 485.3 L290.6 486.3 L291.2 487.2 L291.2 488.4 L291.9 489.3 L292.4 490.3 L292.7 491.4 L293.3 492.3 L294 493.2 L294.6 494.1 L295.1 495.1 L296 495.8 L296.4 496.9 L297.5 497.5 L297.8 498.6 L298.5 499.4 L299.1 500.4 L299.5 501.4 L300.4 502.1 L300.8 503.2 L301.1 504.3 L301.6 505.2 L302.2 506.2 L302.5 507.2 L303 508.2 L303.3 509.3 L303.9 510.2 L304.5 511.1 L305.1 512.1 L305.8 513 L306.3 513.9 L306.9 514.8 L307.1 516.1 L308.2 516.6 L308.7 517.6 L309.6 518.2 L310.1 519.3 L311.1 519.8 L312.1 520.4 L312.7 521.3 L313.6 522 L314.5 522.6 L315.7 522.8 L316.6 523.5 L317.5 524.1 L318.5 524.4 L319.4 525.1 L320.4 525.7 L321.4 526.1 L322.4 526.6 L323.4 527 L324.6 527.1 L325.5 527.7 L326.6 527.9 L327.7 528.1 L328.8 528.4 L329.7 529 L330.8 529.1 L331.9 529.2 L332.9 529.7 L334 529.9 L335.1 530.1 L336.2 530.4 L337.3 530.5 L338.3 530.7 L339.4 531.1 L340.5 531.2 L341.6 531 L342.7 531.5 L343.8 531.3 L344.9 531.7 L346 531.3 L347.1 531.5 L348.2 532 L349.3 531.9 L350.4 532 L351.5 531.8 L352.6 531.8 L353.7 532.4 L354.8 531.9 L355.9 532 L357 532.2 L358.1 532.5 L359.2 532.5 L360.3 532.7 L361.4 532.7 L362.5 532.5 L363.6 532.8 L364.7 532.5 L365.8 532.4 L365.8 532.7" stroke="#ff0000" stroke-width="2.6" fill="none" stroke-linejoin="round" stroke-linecap="round"/>
<path d="M47.8 532.5 L48.9 532.3 L50 532.6 L51.1 532.6 L52.2 532.7 L53.3 532.3 L54.4 532.3 L55.5 532.2 L56.6 532.3 L57.7 532.5 L58.8 532.2 L59.9 532.4 L61 532.2 L62.1 532.2 L63.2 532.3 L64.3 532.5 L65.4 532.4 L66.5 532 L67.6 532.2 L68.7 532.1 L69.8 532.5 L70.9 532.5 L72 532.5 L73.1 532.5 L74.2 532.4 L75.3 532.5 L76.4 532.4 L77.5 532.1 L78.6 532.4 L79.7 532.2 L80.8 532.3 L81.9 532.2 L83 532.1 L84.1 532.1 L85.2 532.1 L86.3 532 L87.4 531.9 L88.5 532.3 L89.6 532.3 L90.7 532.4 L91.8 532.2 L92.9 532.1 L94 532.2 L95.1 531.8 L96.2 532.1 L97.3 532 L98.4 531.8 L99.5 531.8 L100.6 532 L101.7 531.8 L102.8 532 L103.9 532 L105 531.9 L106.1 531.7 L107.2 532 L108.3 531.8 L109.4 531.8 L110.5 531.8 L111.6 531.9 L112.7 531.7 L113.8 532 L114.9 532.2 L116 531.9 L117.1 532 L118.2 532.2 L119.3 531.6 L120.4 531.7 L121.5 532.1 L122.6 532.1 L123.7 532 L124.8 531.7 L125.9 531.8 L127 532.1 L128.1 532.1 L129.2 532 L130.3 531.7 L131.4 532.1 L132.5 531.8 L133.6 532 L134.7 531.6 L135.8 532.1 L136.9 531.9 L138 531.9 L139.1 531.6 L140.2 531.8 L141.3 531.7 L142.4 531.7 L143.5 531.6 L144.6 531.8 L145.7 531.5 L146.8 531.5 L147.9 531.3 L149 531.6 L150.1 531.3 L151.2 531.2 L152.3 531 L153.4 531.3 L154.5 531.1 L155.6 531 L156.6 530.5 L157.6 530.3 L158.6 529.8 L159.4 529.1 L160.4 528.5 L161.6 528.5 L162.4 527.6 L163.4 527.2 L164.4 526.6 L165.4 526.2 L166.2 525.4 L167.3 525 L168.1 524.4 L169.2 524 L169.8 522.9 L170.8 522.4 L171.7 521.8 L172.7 521.2 L173.3 520.2 L174 519.4 L174.8 518.7 L175.3 517.7 L175.9 516.7 L176.8 516 L177.6 515.3 L178.1 514.3 L178.4 513.2 L179.2 512.4 L179.8 511.4 L180 510.3 L180.7 509.4 L181.1 508.4 L181.6 507.4 L182.1 506.4 L182.5 505.4 L183.1 504.5 L183.4 503.4 L184 502.4 L184.2 501.4 L185 500.5 L185.3 499.4 L185.3 498.3 L186.2 497.4 L186.2 496.2 L186.7 495.3 L187.1 494.2 L187.4 493.2 L187.7 492.1 L188.1 491.1 L188.3 490 L189.1 489.1 L189 487.9 L189.7 487 L189.7 485.8 L190.1 484.8 L190.4 483.7 L190.5 482.6 L190.9 481.6 L191.3 480.6 L191.7 479.5 L192.2 478.5 L192.6 477.5 L192.3 476.3 L192.9 475.3 L192.9 474.2 L193.5 473.2 L193.5 472 L194 471 L194 469.9 L194 468.8 L194.1 467.7 L194.4 466.6 L194.9 465.6 L194.7 464.4 L195 463.4 L195.1 462.3 L195.2 461.2 L195.7 460.1 L195.4 459 L195.9 457.9 L196 456.9 L196.2 455.8 L196.1 454.7 L196.5 453.6 L196.3 452.5 L196.5 451.4 L196.7 450.3 L197 449.2 L197.2 448.1 L196.8 447 L197 445.9 L197.4 444.8 L197.7 443.8 L197.7 442.7 L197.7 441.6 L198.3 440.5 L198.1 439.4 L198.2 438.3 L198.4 437.2 L198.6 436.1 L199.2 435.1 L199 434 L199.6 432.9 L199.9 431.9 L200.2 430.8 L200.3 429.7 L200.3 428.6 L200.6 427.5 L201 426.5 L201.1 425.4 L201.1 424.3 L201.6 423.3 L201.5 422.1 L201.8 421.1 L202.4 420.1 L202.3 418.9 L202.5 417.8 L203 416.8 L203 415.7 L203 414.6 L203.2 413.5 L203.5 412.4 L203.8 411.4 L204.4 410.3 L204.2 409.2 L204.8 408.2 L205 407.1 L204.9 406 L205.5 405 L205.6 403.9 L205.6 402.7 L205.7 401.6 L206.1 400.6 L206.6 399.6 L206.6 398.5 L206.7 397.3 L207.1 396.3 L207.4 395.3 L207.4 394.2 L207.8 393.1 L207.7 392 L208.3 391 L208.1 389.8 L208.2 388.7 L208.7 387.7 L208.7 386.6 L209.2 385.5 L209.1 384.4 L209.3 383.3 L209.7 382.3 L209.5 381.1 L209.9 380.1 L210 379 L210.1 377.9 L210.5 376.8 L210.1 375.7 L210.8 374.6 L210.5 373.5 L211.1 372.5 L210.9 371.3 L211 370.2 L211.4 369.2 L211.9 368.1 L211.6 367 L212 365.9 L212.2 364.8 L212.2 363.7 L212.5 362.7 L212.4 361.5 L212.8 360.5 L213.2 359.4 L213.1 358.3 L213.3 357.2 L213.4 356.1 L213.9 355.1 L214 354 L214.5 353 L214.6 351.9 L214.4 350.7 L215.2 349.7 L215.4 348.7 L215.6 347.6 L215.8 346.5 L216 345.4 L216.3 344.4 L216.5 343.3 L216.7 342.2 L216.8 341.1 L217 340 L217.6 339 L217.8 337.9 L217.8 336.8 L218.4 335.8 L218.7 334.8 L219 333.7 L219.4 332.7 L219.8 331.6 L219.8 330.5 L220.4 329.5 L220.5 328.4 L220.9 327.4 L221.3 326.4 L222 325.5 L222.3 324.4 L223.2 323.7 L223.6 322.6 L224.6 322.1 L225.6 321.7 L226.5 321.1 L227.5 320.6 L228.7 320.3 L229.7 320.9 L230.7 321.3 L231.6 322 L232.3 322.7 L232.8 323.6 L233.6 324.4 L234.2 325.4 L234.6 326.4 L235 327.4 L235.8 328.3 L236.1 329.3 L236.6 330.3 L237 331.4 L237.4 332.4 L237.4 333.5 L238.2 334.4 L238.2 335.6 L239 336.5 L239.4 337.5 L239.3 338.7 L240.2 339.6 L240.5 340.6 L240.9 341.7 L241.2 342.7 L241.4 343.8 L241.8 344.8 L242.2 345.9 L242.5 346.9 L242.5 348.1 L243.1 349 L243.3 350.1 L243.4 351.2 L243.5 352.3 L244 353.4 L244.2 354.4 L244.5 355.5 L244.7 356.6 L245 357.6 L245.6 358.6 L246 359.7 L245.9 360.8 L246.2 361.9 L246.5 362.9 L246.6 364 L247.2 365 L247.2 366.2 L247.6 367.2 L247.9 368.3 L248.2 369.3 L248.5 370.4 L248.6 371.5 L248.9 372.5 L248.9 373.7 L249.6 374.6 L249.6 375.8 L250.2 376.7 L250.2 377.9 L250.7 378.9 L250.6 380 L250.8 381.1 L251.5 382.1 L251.4 383.2 L252 384.2 L252.2 385.3 L252.5 386.4 L252.6 387.5 L253 388.5 L252.9 389.7 L253.1 390.7 L253.4 391.8 L253.5 392.9 L253.9 393.9 L254.1 395 L254.3 396.1 L254.7 397.2 L254.3 398.3 L255 399.4 L255.1 400.4 L254.9 401.6 L255 402.7 L255.4 403.7 L255.6 404.8 L255.9 405.9 L256.2 406.9 L256.1 408.1 L256.4 409.1 L256.7 410.2 L256.5 411.4 L257.2 412.3 L257.3 413.5 L257.3 414.6 L257.5 415.7 L258.1 416.6 L258 417.8 L258.4 418.8 L258.6 419.9 L258.6 421 L259 422.1 L259.4 423.1 L259.5 424.2 L259.9 425.3 L260.2 426.3 L260.3 427.4 L260.7 428.5 L261.2 429.5 L261.7 430.5 L261.5 431.7 L262.1 432.6 L262.4 433.7 L262.8 434.7 L263 435.8 L263.4 436.8 L263.5 438 L264.1 438.9 L264.5 440 L264.7 441 L265.3 442 L265.6 443.1 L265.9 444.1 L266.3 445.2 L266.6 446.2 L267 447.3 L267.5 448.2 L267.9 449.3 L268.5 450.2 L268.8 451.3 L269.1 452.3 L269.5 453.4 L269.6 454.5 L270.5 455.3 L270.7 456.4 L270.8 457.5 L271.4 458.5 L271.6 459.6 L272.3 460.5 L272.4 461.7 L272.9 462.6 L273.2 463.7 L273.9 464.6 L274 465.8 L274.1 466.9 L274.5 467.9 L274.9 468.9 L275.3 470 L275.8 471 L275.8 472.1 L276.3 473.1 L276.6 474.2 L277.1 475.2 L277.6 476.1 L277.9 477.2 L278.8 478 L278.9 479.2 L279.9 479.9 L280 481.1 L280.8 481.9 L281.5 482.8 L281.8 483.9 L282.6 484.7 L283.2 485.6 L284 486.4 L284.3 487.5 L284.9 488.4 L285.8 489.2 L286.5 490 L286.9 491 L287.3 492.1 L288 493 L288.9 493.7 L289.7 494.4 L290 495.6 L291 496.2 L291.4 497.3 L292.2 498.1 L292.7 499.1 L293.8 499.6 L294.2 500.7 L294.9 501.5 L296 502.1 L296.5 503.1 L297.3 503.8 L297.8 504.8 L298.4 505.8 L299.2 506.5 L300 507.3 L300.6 508.3 L301.3 509.1 L301.8 510.1 L302.6 510.9 L302.9 512 L303.8 512.8 L304.1 513.9 L304.9 514.6 L305.4 515.7 L306.3 516.3 L306.9 517.2 L307.4 518.2 L308.2 519 L308.9 519.8 L309.9 520.5 L310.6 521.3 L311.8 521.5 L312.5 522.4 L313.5 523 L314.6 523.3 L315.5 523.8 L316.5 524.4 L317.4 525.1 L318.3 525.7 L319.3 526.2 L320.3 526.6 L321.4 526.7 L322.3 527.5 L323.3 527.9 L324.4 528.1 L325.4 528.7 L326.5 528.9 L327.5 529.2 L328.5 529.7 L329.5 530.2 L330.7 530 L331.7 530.4 L332.8 530.5 L333.9 531 L334.9 531.2 L336.1 531 L337.1 531.4 L338.2 531.4 L339.4 531.4 L340.4 531.5 L341.5 531.8 L342.6 532 L343.7 532 L344.8 531.7 L345.9 532.2 L347 532.1 L348.1 532.1 L349.2 532 L350.3 532.2 L351.4 532.4 L352.5 532.2 L353.6 532.2 L354.7 532.6 L355.8 532.4 L356.9 532.2 L358 532.7 L359.1 532.3 L360.2 532.5 L361.3 532.7 L362.4 532.7 L363.5 532.9 L364.6 532.5 L365.7 532.7 L365.8 532.7" stroke="#0000ff" stroke-width="2.6" fill="none" stroke-linejoin="round" stroke-linecap="round"/>
<path d="M47.8 532.5 L48.9 532.3 L50 532.6 L51.1 532.6 L52.2 532.7 L53.3 532.3 L54.4 532.3 L55.5 532.6 L56.6 532.5 L57.7 532.3 L58.8 532.5 L59.9 532.3 L61 532.6 L62.1 532.2 L63.2 532.2 L64.3 532.6 L65.4 532.3 L66.5 532.2 L67.6 532.5 L68.7 532.4 L69.8 532.1 L70.9 532.3 L72 532.4 L73.1 532.1 L74.2 532.4 L75.3 532 L76.4 532.2 L77.5 532 L78.6 532.1 L79.7 532.5 L80.8 532.2 L81.9 532.5 L83 532.2 L84.1 532.3 L85.2 532.4 L86.3 532.3 L87.4 531.9 L88.5 532.2 L89.6 532.2 L90.7 532 L91.8 531.9 L92.9 532.4 L94 532.1 L95.1 531.9 L96.2 532.1 L97.3 531.9 L98.4 532.3 L99.5 532.1 L100.6 531.8 L101.7 532.2 L102.8 531.8 L103.9 531.9 L105 531.7 L106.1 532.2 L107.2 531.8 L108.3 532 L109.4 531.7 L110.5 532 L111.6 532.1 L112.7 532 L113.8 531.9 L114.9 531.9 L116 531.9 L117.1 532 L118.2 531.7 L119.3 531.9 L120.4 531.7 L121.5 532.1 L122.6 532.1 L123.7 531.6 L124.8 531.6 L125.9 531.9 L127 531.8 L128.1 531.5 L129.2 531.9 L130.3 532 L131.4 531.7 L132.5 531.6 L133.6 531.8 L134.7 532 L135.8 531.5 L136.9 531.5 L138 531.5 L139.1 531.7 L140.2 531.6 L141.3 531.5 L142.4 531.5 L143.5 531.3 L144.6 531.5 L145.7 531.8 L146.8 531.6 L147.9 531.4 L149 531.8 L150.1 531.4 L151.2 531.3 L152.3 531.2 L153.4 531.2 L154.5 531.2 L155.6 531.2 L156.7 531.6 L157.8 531.2 L158.9 531.2 L160 531.4 L161.1 531.6 L162.2 531.2 L163.3 531.4 L164.4 531.1 L165.5 531.1 L166.6 531.1 L167.7 531 L168.7 530.6 L169.7 530.1 L170.8 529.9 L171.7 529.2 L172.8 528.8 L173.9 528.6 L174.8 527.9 L175.8 527.4 L176.5 526.5 L177.6 526.1 L178.3 525.3 L178.9 524.4 L180 523.9 L180.6 522.9 L181.3 522.1 L182 521.2 L182.5 520.3 L183.3 519.4 L184.2 518.7 L184.6 517.7 L185.3 516.8 L186 516 L186.6 515.1 L187.1 514.1 L187.9 513.3 L188.3 512.2 L188.9 511.3 L189.5 510.4 L189.9 509.3 L190.5 508.4 L191.1 507.5 L191.9 506.7 L192.2 505.6 L193 504.8 L193.3 503.7 L194 502.8 L194.4 501.8 L194.7 500.7 L195.5 499.9 L195.9 498.8 L196.4 497.9 L196.7 496.8 L197.4 495.9 L197.9 494.9 L198.5 494 L199.2 493.1 L199.6 492.1 L199.6 490.9 L200.4 490.1 L201 489.1 L201.2 488 L201.4 486.9 L202.3 486.1 L202.5 485 L203.2 484.1 L203.6 483 L204 482 L204.4 481 L204.4 479.8 L205.2 478.9 L205.3 477.8 L205.6 476.7 L206.1 475.8 L206.6 474.8 L206.6 473.6 L207.2 472.6 L207.7 471.6 L207.8 470.5 L208.1 469.5 L208.2 468.4 L208.8 467.4 L208.6 466.2 L209.1 465.2 L209.3 464.1 L209.2 463 L209.9 462 L209.7 460.8 L210.3 459.8 L210.5 458.7 L210.7 457.6 L210.8 456.5 L210.8 455.4 L211 454.3 L211.1 453.2 L211.7 452.2 L211.3 451.1 L211.6 450 L212.3 449 L212.4 447.9 L212.6 446.8 L213 445.8 L213 444.6 L213.4 443.6 L213.4 442.5 L213.9 441.5 L213.6 440.3 L214.1 439.3 L214.4 438.2 L214.8 437.2 L214.8 436 L215.2 435 L215.6 434 L215.5 432.8 L215.6 431.7 L215.7 430.6 L216.4 429.6 L216.4 428.5 L216.6 427.4 L216.9 426.4 L216.9 425.2 L217.2 424.2 L217.4 423.1 L217.7 422 L218.2 421 L218.1 419.9 L218.2 418.8 L218.9 417.8 L219 416.7 L218.9 415.5 L219.5 414.5 L219.7 413.5 L219.9 412.4 L220.2 411.3 L220.3 410.2 L220.4 409.1 L220.9 408.1 L221.1 407 L221.3 405.9 L221.3 404.8 L221.6 403.7 L222 402.7 L222.1 401.6 L222.4 400.5 L222.6 399.5 L223 398.4 L223 397.3 L223.3 396.2 L223.8 395.2 L223.7 394.1 L223.9 393 L224.4 392 L224.4 390.8 L225.1 389.9 L225 388.7 L225.6 387.7 L225.7 386.6 L225.8 385.5 L226.2 384.5 L226.6 383.4 L226.7 382.4 L227.1 381.3 L227.2 380.2 L227.8 379.2 L227.5 378 L228.1 377 L227.9 375.9 L228.4 374.8 L228.4 373.7 L228.7 372.6 L229.2 371.6 L229.6 370.6 L229.5 369.4 L229.8 368.4 L230.1 367.3 L230.5 366.3 L230.6 365.2 L230.9 364.1 L231.4 363.1 L231.5 362 L231.7 360.9 L232.2 359.9 L232.6 358.9 L232.6 357.7 L232.7 356.6 L233.1 355.6 L233.8 354.6 L233.7 353.5 L234 352.4 L234.7 351.5 L234.7 350.3 L235.4 349.4 L235.4 348.3 L235.9 347.2 L236.4 346.2 L236.4 345.1 L237.2 344.2 L237.4 343.1 L237.9 342.1 L238.3 341.1 L238.3 339.9 L239.1 339.1 L239.5 338 L239.6 336.9 L240.1 335.9 L240.4 334.8 L241 333.9 L241.8 333.1 L242.3 332.1 L242.9 331.2 L243.1 330.1 L243.9 329.3 L244.2 328.2 L244.7 327.2 L244.8 326 L245.7 325.3 L246 324.1 L247 323.6 L247.7 322.7 L248.9 322.4 L249.5 321.4 L250.6 321.1 L251.6 320.7 L252.7 320.4 L253.9 320.5 L254.7 321.4 L255.4 322.2 L256.5 322.7 L256.9 323.7 L257.9 324.3 L258.6 325.2 L259.1 326.2 L259.3 327.3 L259.9 328.2 L260.5 329.2 L261.3 330 L261.6 331.1 L262.3 332 L262.7 333 L262.9 334.1 L263.4 335.1 L263.9 336.1 L264.1 337.2 L264.3 338.3 L264.6 339.3 L265 340.4 L265.7 341.3 L266.2 342.3 L266.1 343.5 L266.7 344.4 L267.1 345.5 L267.2 346.6 L267.7 347.6 L267.8 348.7 L268.3 349.7 L268.4 350.8 L269.2 351.7 L269.1 352.9 L269.6 353.9 L269.8 355 L270.3 356 L270.6 357 L270.9 358.1 L271.2 359.2 L271 360.3 L271.8 361.3 L272 362.4 L272 363.5 L272.5 364.5 L272.8 365.6 L273 366.7 L273.3 367.7 L273.7 368.7 L273.6 369.9 L273.9 371 L274.4 372 L274.4 373.1 L274.9 374.1 L275.4 375.1 L275.3 376.3 L276.1 377.2 L276.1 378.4 L276.4 379.4 L277.2 380.3 L277 381.5 L277.6 382.5 L277.9 383.6 L278 384.7 L278.6 385.6 L279.1 386.6 L279.5 387.6 L279.4 388.9 L280 389.8 L280.2 390.9 L280.6 391.9 L280.7 393 L281.1 394.1 L281.4 395.1 L282 396.1 L282.1 397.2 L282.7 398.2 L283.1 399.2 L283.2 400.4 L283.8 401.3 L283.6 402.5 L284.3 403.5 L284.5 404.5 L284.9 405.6 L285.2 406.6 L285.4 407.7 L285.6 408.8 L286.4 409.7 L286.5 410.8 L286.9 411.9 L286.8 413 L287.4 414 L287.7 415.1 L287.7 416.2 L288.4 417.2 L288.7 418.2 L289 419.3 L289.4 420.3 L289.4 421.4 L290 422.4 L290.1 423.5 L290.4 424.6 L290.6 425.7 L290.9 426.7 L291.4 427.7 L291.4 428.9 L291.7 429.9 L292 431 L292.4 432 L292.9 433 L293.2 434.1 L293.2 435.2 L293.7 436.2 L293.9 437.3 L294.3 438.3 L294.6 439.4 L295.1 440.4 L295 441.6 L295.5 442.6 L295.7 443.7 L295.8 444.8 L296 445.9 L296.2 446.9 L296.6 448 L297.2 449 L297 450.1 L297.8 451.1 L297.9 452.2 L297.9 453.3 L298.2 454.4 L298.6 455.4 L298.8 456.5 L299.5 457.5 L299.8 458.5 L299.9 459.6 L299.8 460.8 L300.5 461.7 L300.6 462.9 L300.7 463.9 L301.1 465 L301 466.1 L301.6 467.1 L301.9 468.2 L301.6 469.4 L302.4 470.3 L302.5 471.5 L302.6 472.6 L302.5 473.7 L303.1 474.7 L303.2 475.8 L303.3 476.9 L303.7 477.9 L303.8 479 L304.5 480 L304.5 481.1 L305.1 482.1 L304.9 483.3 L305.6 484.3 L305.9 485.3 L306 486.4 L306.2 487.5 L306.8 488.5 L306.8 489.6 L307.4 490.6 L307.6 491.7 L308.1 492.7 L308 493.9 L308.4 494.9 L308.8 495.9 L309.4 496.9 L309.8 497.9 L309.8 499.1 L310.3 500.1 L310.6 501.1 L311.3 502 L311.5 503.1 L312 504.1 L312.4 505.2 L313 506.1 L313.3 507.2 L314 508.1 L314.6 509 L314.9 510.1 L315.7 510.9 L315.9 512 L316.7 512.8 L317.3 513.7 L317.6 514.9 L318.4 515.7 L319.2 516.4 L319.6 517.5 L320.3 518.3 L321.3 519 L322 519.8 L323.1 520.3 L323.8 521.2 L324.3 522.2 L325.3 522.7 L326.1 523.5 L327.3 523.7 L328.2 524.3 L329.1 524.9 L330 525.5 L330.8 526.3 L331.8 527 L332.8 527.3 L333.9 527.7 L335 527.9 L336 528.2 L337.1 528.4 L338.1 528.9 L339.2 528.9 L340.2 529.6 L341.3 529.6 L342.4 529.8 L343.4 530.3 L344.6 530.1 L345.6 530.6 L346.7 530.6 L347.8 530.7 L348.9 530.8 L350 531 L351.1 531.3 L352.2 531.4 L353.3 531.3 L354.4 531.6 L355.5 531.3 L356.6 531.8 L357.7 531.8 L358.8 531.8 L359.9 531.6 L360.9 532.1 L362.1 531.9 L363.2 532 L364.2 532.4 L365.4 532 L365.8 532.3" stroke="#008080" stroke-width="2.6" fill="none" stroke-linejoin="round" stroke-linecap="round"/>
<path d="M47.8 532.5 L48.9 532.8 L50 532.2 L51.1 532.6 L52.2 532.3 L53.3 532.8 L54.4 532.2 L55.5 532.7 L56.6 532.6 L57.7 532.6 L58.8 532.7 L59.9 532.3 L61 532.3 L62.1 532.5 L63.2 532.3 L64.3 532.3 L65.4 532.2 L66.5 532.6 L67.6 532.6 L68.7 532.5 L69.8 532.2 L70.9 532.6 L72 532.3 L73.1 532.2 L74.2 532.3 L75.3 532.3 L76.4 532.1 L77.5 532.3 L78.6 532.2 L79.7 532.3 L80.8 532.5 L81.9 532.4 L83 532.2 L84.1 532.5 L85.2 532.5 L86.3 532.2 L87.4 532.5 L88.5 531.9 L89.6 532 L90.7 532 L91.8 532.5 L92.9 532.3 L94 532.3 L95.1 532 L96.2 532.2 L97.3 532.4 L98.4 531.9 L99.5 531.9 L100.6 531.8 L101.7 532.1 L102.8 532.3 L103.9 532.1 L105 532 L106.1 532.1 L107.2 531.9 L108.3 532.3 L109.4 532 L110.5 531.9 L111.6 531.9 L112.7 532.2 L113.8 531.9 L114.9 532.2 L116 531.9 L117.1 531.9 L118.2 531.7 L119.3 532.2 L120.4 532.1 L121.5 531.9 L122.6 531.7 L123.7 531.9 L124.8 531.8 L125.9 532.1 L127 532.1 L128.1 532 L129.2 531.7 L130.3 531.5 L131.4 532 L132.5 532 L133.6 531.5 L134.7 531.7 L135.8 531.6 L136.9 531.9 L138 531.3 L139.1 531.3 L140.2 531.7 L141.3 531.5 L142.4 531.4 L143.5 531.6 L144.6 531.5 L145.7 531.5 L146.8 531.2 L147.9 531.1 L149 531 L150.1 531.2 L151.2 531.3 L152.3 531.1 L153.4 531.1 L154.5 531.2 L155.6 531.2 L156.7 531.1 L157.8 530.9 L158.9 531.2 L160 531.2 L161.1 531.1 L162.2 530.9 L163.2 530.2 L164.3 530.4 L165.4 530.1 L166.5 529.9 L167.6 529.8 L168.6 529.4 L169.7 529.3 L171 529.6 L171.4 528.6 L171.8 527.6 L171.7 526.5 L171.3 525.4 L171.8 524.5 L172.8 524.1 L173.8 523.6 L174.7 522.9 L175.6 522.2 L176.5 521.7 L177.7 521.4 L178.5 520.8 L179.2 519.8 L180.3 519.4 L181 518.6 L181.7 517.7 L182.7 517.1 L183.1 516 L183.8 515.2 L184.6 514.4 L185.4 513.6 L185.8 512.5 L186.2 511.5 L186.8 510.6 L186.9 509.4 L187.5 508.5 L187.5 507.3 L188.5 506.6 L188.8 505.4 L189.6 504.7 L190.3 503.8 L190.9 502.9 L191.5 502 L192.1 501 L192.8 500.2 L193.2 499.2 L193.7 498.2 L194.4 497.3 L194.9 496.3 L195.2 495.2 L195.9 494.4 L196.3 493.3 L196.6 492.3 L197.3 491.4 L197.8 490.4 L198 489.3 L198.8 488.4 L199.3 487.5 L199.5 486.4 L199.8 485.3 L200.2 484.3 L200.6 483.2 L201.1 482.2 L201.9 481.4 L201.8 480.1 L202.7 479.3 L202.9 478.2 L203.4 477.2 L203.4 476.1 L204.1 475.1 L204.2 474 L204.9 473.1 L205.3 472.1 L205.6 471 L205.9 470 L206.5 469 L206.5 467.8 L206.8 466.8 L207.6 465.9 L207.6 464.7 L208.1 463.7 L208.5 462.7 L209.1 461.8 L209.2 460.6 L209.7 459.6 L210.1 458.6 L210.4 457.6 L210.8 456.5 L211.2 455.5 L211.7 454.5 L212 453.4 L212.4 452.4 L213.1 451.5 L213.5 450.5 L213.6 449.3 L214.4 448.5 L214.3 447.3 L214.9 446.3 L215.7 445.5 L215.7 444.3 L216.5 443.4 L217.1 442.5 L217.3 441.4 L217.7 440.3 L217.9 439.2 L218.6 438.3 L219 437.3 L219.6 436.4 L219.9 435.3 L220.5 434.4 L220.7 433.3 L221.3 432.3 L221.8 431.3 L222 430.2 L222.8 429.4 L223 428.2 L223.5 427.2 L224.2 426.4 L224.4 425.3 L224.8 424.2 L225.1 423.2 L225.6 422.2 L226.3 421.3 L226.6 420.2 L227.2 419.3 L227.6 418.3 L228.1 417.3 L228.4 416.2 L229.1 415.3 L229.3 414.2 L229.6 413.1 L230.4 412.3 L230.9 411.3 L230.8 410.1 L231.6 409.2 L231.9 408.1 L232 407 L232.6 406 L233.1 405 L233 403.8 L233.6 402.9 L233.7 401.8 L234 400.7 L234.8 399.8 L235.2 398.8 L235.4 397.7 L235.9 396.7 L236.2 395.6 L236.6 394.6 L237.1 393.7 L237.7 392.7 L237.9 391.6 L238.1 390.5 L238.5 389.5 L238.7 388.4 L239.2 387.4 L239.5 386.3 L239.7 385.2 L239.8 384.1 L240.1 383.1 L240.8 382.1 L240.8 381 L241.3 380 L241.3 378.8 L241.6 377.8 L241.9 376.7 L242.5 375.7 L242.5 374.6 L243.1 373.6 L243 372.5 L243.6 371.5 L243.9 370.4 L243.9 369.3 L244.1 368.2 L244.4 367.1 L244.8 366.1 L244.8 365 L245.1 363.9 L245.7 362.9 L246 361.9 L245.8 360.7 L246.3 359.7 L246.6 358.6 L247.1 357.6 L247.1 356.5 L247.3 355.4 L247.7 354.4 L248 353.3 L248.2 352.2 L248.4 351.1 L248.8 350.1 L248.6 348.9 L249.3 348 L249.2 346.8 L249.6 345.8 L249.8 344.7 L250.2 343.6 L250.5 342.6 L250.8 341.5 L250.9 340.4 L251.2 339.4 L251.7 338.3 L252.1 337.3 L252 336.2 L252.1 335.1 L252.8 334.1 L253.1 333.1 L253.4 332 L253.6 330.9 L253.7 329.8 L253.8 328.7 L254.7 327.8 L254.9 326.7 L255.1 325.6 L256 324.8 L256.4 323.7 L257.2 323 L258.1 322.4 L259.1 321.8 L259.9 321 L261 320.7 L262.1 320.7 L263 321.4 L264.1 321.6 L264.8 322.5 L265.5 323.4 L265.7 324.6 L266.3 325.5 L266.7 326.5 L267.6 327.3 L267.7 328.4 L268.3 329.4 L268.4 330.5 L268.5 331.6 L269 332.7 L269.1 333.8 L269.4 334.8 L269.7 335.9 L270.1 336.9 L270.4 338 L270.4 339.1 L270.5 340.2 L270.7 341.3 L271 342.3 L271.3 343.4 L271.7 344.5 L272 345.5 L272.5 346.5 L272.4 347.7 L273 348.7 L272.8 349.8 L273.1 350.9 L273.6 351.9 L273.5 353.1 L273.9 354.1 L274.1 355.2 L274.7 356.2 L274.9 357.3 L275.2 358.3 L275 359.5 L275.7 360.5 L275.8 361.6 L275.9 362.7 L276.3 363.7 L276.4 364.8 L276.7 365.9 L277.1 366.9 L277 368.1 L277.4 369.1 L277.6 370.2 L277.9 371.2 L278.2 372.3 L278.7 373.3 L278.5 374.5 L278.7 375.6 L279.4 376.5 L279.5 377.6 L279.8 378.7 L280.1 379.8 L280 380.9 L280.3 382 L280.7 383 L280.8 384.1 L280.9 385.2 L281.4 386.2 L281.3 387.4 L281.6 388.5 L281.7 389.5 L281.8 390.6 L282.1 391.7 L282.7 392.7 L283.1 393.7 L283.3 394.8 L283.7 395.9 L283.5 397 L284.1 398 L284.3 399.1 L284.6 400.2 L285 401.2 L285 402.3 L285.4 403.4 L285.7 404.4 L286.3 405.4 L286.4 406.5 L286.4 407.6 L286.8 408.7 L286.9 409.8 L286.9 410.9 L287.3 412 L287.4 413 L287.9 414.1 L288.2 415.1 L288.3 416.2 L288.1 417.4 L288.7 418.4 L289 419.5 L289.2 420.5 L288.9 421.7 L289.5 422.7 L289.8 423.8 L289.8 424.9 L290.2 425.9 L290 427.1 L290.3 428.2 L290.6 429.2 L290.6 430.3 L291.3 431.4 L291 432.5 L291.3 433.6 L291.4 434.7 L292 435.7 L291.7 436.9 L291.9 437.9 L292.4 439 L292.7 440 L292.8 441.1 L292.8 442.2 L293.2 443.3 L293.3 444.4 L293.3 445.5 L293.6 446.6 L294 447.6 L293.9 448.8 L294.1 449.8 L294.7 450.8 L294.6 452 L294.9 453 L295.1 454.1 L295.2 455.2 L295.1 456.4 L295.4 457.4 L295.8 458.5 L296.1 459.5 L296.3 460.6 L296.4 461.7 L296.5 462.8 L296.9 463.9 L297.2 464.9 L297.4 466 L297.9 467 L297.9 468.1 L298.7 469 L299 470.1 L299.1 471.2 L299.3 472.3 L299.9 473.3 L300 474.4 L300.4 475.4 L300.8 476.5 L300.4 477.7 L301.1 478.7 L300.9 479.8 L301.5 480.8 L301.5 481.9 L301.6 483 L301.5 484.2 L301.8 485.2 L302.2 486.3 L302.6 487.3 L302.4 488.5 L302.6 489.6 L302.7 490.7 L303.4 491.6 L303.3 492.8 L303.6 493.8 L303.8 495 L304.1 496 L304.4 497.1 L304.6 498.1 L305.3 499.1 L305.1 500.3 L305.6 501.3 L305.8 502.4 L306.5 503.3 L306.6 504.4 L306.8 505.6 L307.1 506.6 L307.8 507.5 L308 508.6 L308.9 509.4 L309.3 510.5 L309.7 511.5 L309.9 512.6 L310.6 513.5 L311.3 514.4 L311.6 515.5 L312.5 516.2 L313.3 516.9 L313.6 518.1 L314.4 518.9 L315.1 519.8 L316 520.4 L316.9 521 L317.6 522 L318.7 522.3 L319.6 522.9 L320.4 523.7 L321 524.8 L322.2 524.9 L323 525.8 L324 526.2 L325.1 526.5 L326 527 L327 527.6 L328.1 527.7 L329.1 528.3 L330.3 528.2 L331.2 528.8 L332.3 529.2 L333.4 529 L334.5 529.1 L335.6 529.5 L336.7 529.4 L337.8 529.8 L338.8 530.1 L340 529.9 L341.1 530 L342.1 530.5 L343.3 530.2 L344.3 530.7 L345.4 530.6 L346.5 530.9 L347.6 530.7 L348.7 531.2 L349.8 531.1 L350.9 531.1 L352 530.9 L353.1 531.3 L354.2 531.2 L355.3 531.6 L356.4 531.4 L357.5 531.5 L358.6 531.5 L359.7 531.7 L360.8 531.7 L361.9 531.9 L363 532.1 L364 532.4 L365.1 532.4 L365.8 532.3" stroke="#ff00ff" stroke-width="2.6" fill="none" stroke-linejoin="round" stroke-linecap="round"/>
<path d="M47.8 532.5 L48.9 532.4 L50 532.5 L51.1 532.4 L52.2 532.4 L53.3 532.4 L54.4 532.6 L55.5 532.3 L56.6 532.5 L57.7 532.1 L58.8 532.3 L59.9 532.3 L61 532.2 L62.1 532.6 L63.2 532.3 L64.3 532.6 L65.4 532.7 L66.5 532.2 L67.6 532.6 L68.7 532.5 L69.8 532.5 L70.9 532.1 L72 532.3 L73.1 532.4 L74.2 532.2 L75.3 532.2 L76.4 532.2 L77.5 532.2 L78.6 532.5 L79.7 532.2 L80.8 532.2 L81.9 532.4 L83 532.5 L84.1 532.1 L85.2 532 L86.3 532.5 L87.4 532.4 L88.5 532.4 L89.6 532.2 L90.7 532.1 L91.8 532 L92.9 532.1 L94 532.2 L95.1 531.9 L96.2 532.3 L97.3 532.3 L98.4 531.9 L99.5 532.4 L100.6 532.1 L101.7 532.4 L102.8 532.1 L103.9 532.3 L105 532.1 L106.1 532.2 L107.2 532.1 L108.3 531.8 L109.4 531.9 L110.5 531.9 L111.6 532 L112.7 532 L113.8 532.1 L114.9 532.1 L116 532 L117.1 531.9 L118.2 532 L119.3 532.3 L120.4 532.2 L121.5 532.1 L122.6 532.2 L123.7 531.8 L124.8 531.7 L125.9 531.7 L127 531.7 L128.1 531.6 L129.2 532 L130.3 532.1 L131.4 531.6 L132.5 532 L133.6 532.1 L134.7 532 L135.8 531.6 L136.9 531.9 L138 531.7 L139.1 531.6 L140.2 531.5 L141.3 531.8 L142.4 532 L143.5 531.5 L144.6 531.5 L145.7 531.6 L146.8 531.4 L147.9 531.6 L149 531.8 L150.1 531.6 L151.2 531.3 L152.3 531.2 L153.4 531.2 L154.5 531.4 L155.6 531.3 L156.6 530.9 L157.7 530.5 L158.8 530.4 L159.9 530.3 L160.9 529.9 L162 529.6 L163.1 529.5 L164.2 529.4 L165.2 528.7 L166.3 528.8 L167.4 528.5 L168.3 527.9 L169.4 527.5 L170.4 527.1 L171.5 527 L172.6 526.7 L173.6 526.2 L174.4 525.4 L175.4 525 L176.2 524.1 L177.1 523.6 L178 522.9 L178.7 522.1 L179.5 521.3 L180.6 520.9 L181.1 519.8 L181.8 519 L182.5 518.2 L183.2 517.3 L183.8 516.4 L184.4 515.4 L185 514.5 L185.4 513.5 L186.2 512.7 L186.8 511.7 L187.3 510.8 L187.6 509.7 L188.3 508.8 L189 507.9 L189.5 507 L189.7 505.8 L190.4 505 L190.9 504 L191.8 503.2 L192.3 502.2 L192.9 501.3 L193.5 500.4 L194.2 499.5 L195 498.8 L195.6 497.8 L196.1 496.8 L196.9 496.1 L197.7 495.3 L198.2 494.3 L199.4 493.9 L199.9 492.8 L200.9 492.3 L201.7 491.5 L202.9 491.3 L203.7 490.6 L204.5 489.8 L205.6 489.4 L206.7 489.1 L207.6 488.6 L208.6 488 L209.5 487.5 L210.6 487.1 L211.6 486.8 L212.5 486.1 L213.5 485.7 L214.5 485.2 L215.4 484.5 L216.3 483.8 L217.3 483.4 L218.1 482.6 L219.1 482.1 L220 481.5 L220.9 480.8 L221.4 479.7 L222.2 478.9 L223.3 478.5 L224 477.7 L224.9 477 L225.5 476.1 L226.3 475.3 L226.6 474.1 L227.2 473.2 L228 472.4 L228.7 471.6 L228.9 470.4 L229.9 469.7 L230.1 468.6 L230.6 467.6 L231.2 466.7 L231.6 465.6 L232.1 464.6 L232.5 463.6 L233 462.6 L233.5 461.7 L234.3 460.8 L234.8 459.8 L235.2 458.8 L235.5 457.7 L236.1 456.8 L236.2 455.7 L237 454.8 L237.2 453.7 L237.5 452.6 L238 451.6 L238.3 450.6 L239 449.7 L239.1 448.5 L239.3 447.4 L239.8 446.4 L240 445.4 L240.9 444.5 L240.9 443.3 L241.5 442.4 L241.7 441.3 L241.9 440.2 L242.4 439.2 L242.6 438.1 L242.6 437 L243.4 436.1 L243.4 434.9 L243.8 433.9 L244 432.8 L244.6 431.8 L244.4 430.6 L244.6 429.5 L244.9 428.5 L245.4 427.5 L245.9 426.5 L245.9 425.3 L246.5 424.3 L246.3 423.2 L247.1 422.2 L246.9 421 L247.5 420.1 L247.4 418.9 L247.9 417.9 L248.2 416.8 L248.6 415.8 L248.5 414.7 L249 413.6 L248.8 412.5 L249.6 411.5 L249.6 410.4 L249.8 409.3 L250.3 408.3 L250.2 407.1 L250.6 406.1 L250.8 405 L250.9 403.9 L251 402.8 L251.4 401.8 L251.6 400.7 L252 399.6 L252.2 398.5 L252.2 397.4 L252.8 396.4 L253.2 395.4 L253.2 394.3 L253.3 393.2 L253.5 392.1 L254.2 391.1 L254.1 390 L254.5 388.9 L254.4 387.8 L255 386.8 L255.3 385.7 L255.2 384.6 L255.5 383.5 L255.9 382.5 L256.3 381.4 L256.5 380.4 L256.3 379.2 L256.6 378.1 L257.3 377.2 L257.3 376 L257.9 375 L257.9 373.9 L258.3 372.9 L258.2 371.7 L258.9 370.8 L258.9 369.6 L258.8 368.5 L259.1 367.4 L259.3 366.3 L259.7 365.3 L260.2 364.3 L260.4 363.2 L260.6 362.1 L260.5 361 L260.9 359.9 L261.1 358.8 L261.4 357.8 L261.7 356.7 L261.8 355.6 L262 354.5 L261.9 353.4 L262 352.3 L262.4 351.3 L262.5 350.2 L263 349.1 L262.9 348 L263.1 346.9 L263.7 345.9 L263.5 344.7 L263.7 343.7 L263.9 342.6 L264.1 341.5 L264.4 340.4 L265.1 339.5 L265 338.3 L265.2 337.2 L265.7 336.2 L265.8 335.1 L265.9 334 L266.2 332.9 L266.6 331.9 L267 330.9 L267.1 329.8 L267.6 328.8 L268 327.7 L268.6 326.8 L268.9 325.7 L269.2 324.6 L269.7 323.6 L270.3 322.8 L271.1 322 L272.2 321.6 L273.1 321.1 L274.1 320.5 L275.1 321 L276 321.6 L276.8 322.3 L277.6 323 L278.4 323.8 L279.2 324.6 L279.6 325.6 L279.8 326.8 L280.1 327.8 L280.5 328.8 L281.2 329.7 L281.2 330.9 L281.5 331.9 L282 332.9 L282.3 334 L282.5 335.1 L282.7 336.2 L283.2 337.2 L283.5 338.2 L283.2 339.5 L283.8 340.4 L284 341.5 L284.2 342.6 L284.5 343.6 L284.7 344.7 L285.1 345.8 L285.7 346.8 L285.9 347.8 L286.1 348.9 L286.3 350 L286.2 351.2 L286.7 352.2 L287.2 353.2 L287 354.4 L287.6 355.4 L287.8 356.4 L287.9 357.5 L288.1 358.6 L288.6 359.6 L288.7 360.7 L289.2 361.8 L288.9 363 L289.1 364 L289.4 365.1 L290 366.1 L290 367.2 L290.3 368.3 L290.7 369.3 L290.9 370.4 L290.7 371.6 L291.1 372.6 L291.3 373.7 L291.8 374.7 L291.8 375.8 L291.8 377 L292.5 377.9 L292.7 379 L292.5 380.2 L293.1 381.2 L293.2 382.3 L293.2 383.4 L293.5 384.5 L294 385.5 L294.2 386.6 L294.5 387.6 L294.9 388.7 L294.8 389.8 L295.3 390.8 L295.5 391.9 L295.4 393.1 L296 394 L296.3 395.1 L296.6 396.2 L296.5 397.3 L297 398.3 L297.3 399.4 L297.4 400.5 L297.5 401.6 L297.6 402.7 L298.4 403.7 L298.4 404.8 L298.8 405.8 L298.8 406.9 L298.8 408.1 L299.2 409.1 L299.4 410.2 L299.6 411.3 L299.4 412.4 L299.7 413.5 L299.8 414.6 L300.2 415.6 L300.2 416.8 L300.5 417.8 L301 418.8 L301.2 419.9 L300.9 421.1 L301.3 422.1 L301.4 423.3 L301.7 424.3 L301.7 425.4 L302.3 426.4 L302.5 427.5 L302.7 428.6 L302.6 429.7 L302.8 430.8 L303.1 431.9 L303.5 432.9 L303.5 434 L303.8 435.1 L304.2 436.2 L303.9 437.3 L304.2 438.4 L304.4 439.5 L304.8 440.5 L304.8 441.6 L305 442.7 L305.5 443.7 L305.3 444.9 L305.6 446 L306.3 447 L306.4 448 L306.7 449.1 L306.5 450.3 L307 451.3 L307.2 452.4 L307.5 453.4 L307.5 454.6 L307.8 455.6 L307.8 456.7 L308.3 457.8 L308.2 458.9 L308.4 460 L308.8 461 L308.6 462.2 L309.1 463.2 L309.3 464.3 L309.7 465.3 L309.9 466.4 L309.9 467.5 L310.3 468.6 L310.7 469.6 L310.7 470.7 L310.9 471.8 L311.3 472.9 L311.5 474 L311.3 475.1 L311.6 476.2 L312 477.2 L312.1 478.3 L312.4 479.4 L313 480.4 L313.1 481.5 L313.6 482.5 L313.6 483.6 L314 484.7 L314.5 485.6 L314.6 486.8 L315.1 487.8 L315.2 488.9 L315.4 490 L315.9 491 L316.7 491.9 L316.8 493 L317.2 494 L317.4 495.1 L318.1 496 L318.7 497 L318.9 498.1 L319.4 499.1 L319.6 500.2 L320 501.2 L320.6 502.1 L321 503.2 L321.6 504.1 L322.2 505 L322.6 506 L323 507.1 L323.7 508 L323.9 509.1 L324.7 509.9 L325.3 510.8 L325.7 511.9 L326.1 512.9 L326.9 513.7 L327.6 514.6 L328.1 515.5 L328.5 516.6 L329.3 517.5 L330 518.3 L331 518.9 L331.6 519.8 L332.3 520.6 L333.2 521.3 L334 522 L335 522.6 L335.6 523.6 L336.5 524.2 L337.5 524.8 L338.4 525.4 L339.3 525.9 L340.4 526.3 L341.3 526.9 L342.5 527 L343.4 527.7 L344.5 527.9 L345.5 528.3 L346.5 528.7 L347.7 528.6 L348.8 528.8 L349.8 529.4 L350.9 529.3 L351.9 529.8 L353 530 L354.2 529.8 L355.2 530.2 L356.3 530.6 L357.4 530.6 L358.5 530.8 L359.6 530.6 L360.7 530.9 L361.7 531.3 L362.9 530.9 L363.9 531.5 L365 531.4 L365.8 531.6" stroke="#808000" stroke-width="2.6" fill="none" stroke-linejoin="round" stroke-linecap="round"/>
<path d="M47.8 532.5 L48.9 532.5 L50 532.6 L51.1 532.7 L52.2 532.3 L53.3 532.5 L54.4 532.5 L55.5 532.4 L56.6 532 L57.7 532 L58.8 532.2 L59.9 532.3 L61 532 L62.1 532.1 L63.2 532 L64.3 532.3 L65.4 532.3 L66.5 532 L67.6 532.3 L68.7 531.7 L69.8 532.1 L70.9 532.2 L72 531.7 L73.1 532 L74.2 531.9 L75.3 532.1 L76.4 531.6 L77.5 531.8 L78.6 532 L79.7 531.8 L80.8 531.6 L81.9 531.4 L83 531.9 L84.1 531.6 L85.2 531.9 L86.3 531.3 L87.4 531.7 L88.5 531.7 L89.6 531.7 L90.7 531.1 L91.8 531.3 L92.9 531.1 L94 531.5 L95.1 531.2 L96.2 531.6 L97.3 531.2 L98.4 531.4 L99.5 531.4 L100.6 531 L101.7 531.2 L102.8 531.4 L103.9 531.1 L105 531 L106.1 530.9 L107.2 531.2 L108.3 530.8 L109.4 531 L110.5 531 L111.6 530.9 L112.7 530.7 L113.8 530.9 L114.9 531.1 L116 530.7 L117.1 530.7 L118.2 531 L119.3 530.8 L120.4 530.5 L121.5 530.4 L122.6 530.8 L123.7 530.5 L124.8 530.5 L125.9 530.4 L127 530.6 L128.1 530.6 L129.2 530.3 L130.3 530.2 L131.4 530.7 L132.5 530.6 L133.6 530 L134.7 530.3 L135.8 530.4 L136.9 530.1 L138 530.3 L139.1 530.4 L140.2 530.1 L141.3 530 L142.4 529.8 L143.4 529.8 L144.5 529.6 L145.5 529.2 L146.6 529.1 L147.8 529.3 L148.8 528.9 L150 528.8 L151 528.6 L152.1 528.3 L153 527.6 L154.2 527.8 L155.2 527 L156.3 527.1 L157.4 526.8 L158.4 526.3 L159.3 525.6 L160.1 524.8 L160.8 524.1 L161.7 523.4 L162.1 522.4 L162.7 521.5 L163 520.4 L163.4 519.4 L164 518.4 L164.7 517.6 L165.2 516.6 L165.8 515.7 L166.5 514.8 L167.2 514 L167.9 513.1 L168.6 512.3 L169.6 511.7 L170.3 510.8 L170.9 509.8 L171.7 509.2 L172.5 508.4 L173.5 507.9 L174.4 507.2 L175.6 507.1 L176.6 506.7 L177.6 506.3 L178.7 506.3 L179.8 505.8 L180.9 505.7 L182 505.8 L183 505.4 L184.1 505.3 L185.2 505 L186.3 505.3 L187.4 505.1 L188.5 504.6 L189.6 504.5 L190.7 504.5 L191.7 504.2 L192.8 503.9 L193.8 503.4 L194.9 503.3 L196 503 L197 502.5 L197.9 501.9 L198.9 501.3 L199.7 500.7 L200.6 500 L201.5 499.3 L202.1 498.4 L203 497.8 L204.1 497.4 L204.9 496.7 L205.7 495.9 L206.7 495.5 L207.7 494.9 L208.8 494.6 L209.9 494.6 L211 494.6 L212 494.1 L213.2 494.2 L214.3 494.3 L215.3 493.8 L216.4 493.7 L217.3 492.8 L218.5 492.8 L219.5 492.4 L220.3 491.5 L221.4 491.3 L222.4 490.9 L223.2 490 L224.3 489.7 L225.3 489.2 L226.2 488.6 L227 487.8 L227.8 487 L228.9 486.7 L229.7 485.9 L230.8 485.5 L231.7 484.8 L232.6 484.3 L233.6 483.9 L234.6 483.3 L235.5 482.7 L236 481.6 L236.5 480.6 L237.5 480 L237.9 478.9 L238.8 478.2 L239.4 477.3 L239.7 476.1 L240.7 475.5 L241.3 474.6 L242.1 473.8 L243 473.2 L243.9 472.5 L244.4 471.5 L245.1 470.7 L245.6 469.7 L246 468.7 L246.7 467.8 L247.4 467 L247.9 466 L248.7 465.1 L249.6 464.5 L250.2 463.5 L251.2 462.9 L251.6 461.9 L251.9 460.8 L252.5 459.8 L253.1 458.9 L253.6 458 L254.1 457 L254.6 456 L255.2 455.1 L255.4 453.9 L256.1 453 L256.3 451.9 L256.9 451 L257.2 449.9 L257.9 449 L258.3 448 L258.7 447 L258.8 445.8 L259.3 444.9 L259.5 443.7 L260.2 442.9 L260.7 441.9 L260.9 440.8 L261.2 439.7 L261.9 438.8 L262.2 437.7 L262.6 436.7 L262.6 435.5 L262.8 434.5 L263.1 433.4 L263.4 432.3 L263.5 431.2 L263.9 430.2 L264.4 429.2 L264.6 428.1 L265.1 427.1 L265.1 425.9 L265.2 424.8 L265.9 423.9 L265.6 422.7 L266.1 421.7 L266.6 420.6 L266.6 419.5 L267.2 418.5 L267.3 417.4 L267.3 416.3 L267.9 415.3 L268.2 414.2 L268.2 413.1 L268.2 412 L268.4 410.9 L269.1 409.9 L269.4 408.9 L269.5 407.8 L269.8 406.7 L270.1 405.7 L270 404.5 L270.3 403.4 L270.9 402.5 L271.1 401.4 L271.1 400.3 L271.3 399.2 L271.4 398.1 L271.9 397 L272.4 396 L272.3 394.9 L272.6 393.8 L272.7 392.7 L273.2 391.7 L273.1 390.6 L273.7 389.6 L273.9 388.5 L274 387.4 L274.2 386.3 L274.4 385.2 L275 384.2 L275.2 383.1 L275.3 382 L275.2 380.9 L275.3 379.8 L275.6 378.7 L276.1 377.7 L276.4 376.6 L276.1 375.5 L276.5 374.4 L276.6 373.3 L276.8 372.2 L276.8 371.1 L277.3 370.1 L277.5 369 L277.8 367.9 L277.7 366.8 L277.9 365.7 L278.3 364.7 L278.2 363.5 L278.9 362.6 L279.1 361.5 L279 360.3 L279.3 359.3 L279.6 358.2 L280.1 357.2 L280.3 356.1 L280.2 355 L280.9 354 L281.1 352.9 L281.3 351.8 L281.3 350.7 L281.4 349.6 L281.6 348.5 L282.1 347.5 L282 346.4 L282.5 345.3 L282.2 344.2 L282.3 343.1 L282.7 342 L282.7 340.9 L282.9 339.8 L283 338.7 L283.2 337.6 L283.6 336.6 L283.6 335.5 L283.9 334.4 L284.3 333.4 L284.3 332.2 L284.6 331.2 L284.9 330.1 L285.1 329 L285.5 328 L286 327 L285.9 325.8 L286.6 324.9 L287.1 323.9 L287.9 323.1 L288.4 322.2 L289 321.2 L290.1 320.9 L291 321.2 L291.7 321.9 L292.5 322.6 L293.4 323.4 L293.7 324.4 L294.2 325.4 L294.6 326.4 L294.7 327.6 L295.3 328.5 L295.3 329.7 L296.2 330.6 L296 331.8 L296.7 332.7 L296.8 333.8 L297.3 334.8 L297.5 335.9 L297.6 337 L297.7 338.1 L298.5 339.1 L298.6 340.2 L299.1 341.2 L299 342.3 L299.6 343.3 L299.9 344.4 L299.8 345.5 L300.5 346.5 L300.3 347.7 L300.9 348.7 L300.7 349.8 L301.5 350.8 L301.7 351.9 L301.8 353 L302.1 354 L302.1 355.2 L302.5 356.2 L302.7 357.3 L303 358.3 L303.2 359.4 L303.4 360.5 L303.3 361.7 L303.2 362.8 L303.6 363.8 L303.9 364.9 L304 366 L303.9 367.1 L304 368.2 L304.6 369.2 L304.5 370.4 L304.8 371.4 L304.6 372.6 L304.8 373.7 L305 374.7 L305.1 375.8 L305.2 376.9 L305.7 378 L305.7 379.1 L306 380.2 L306.1 381.3 L305.7 382.4 L306.1 383.5 L306.4 384.5 L306.5 385.6 L306.6 386.7 L306.9 387.8 L306.7 388.9 L307.1 390 L307.4 391.1 L307.3 392.2 L307.6 393.3 L307.5 394.4 L308 395.4 L308.1 396.5 L308.2 397.6 L308.4 398.7 L308.7 399.8 L308.5 400.9 L308.5 402 L308.7 403.1 L309 404.2 L309.2 405.3 L309.2 406.4 L309.6 407.4 L309.8 408.5 L309.9 409.6 L309.9 410.7 L310.2 411.8 L310.2 412.9 L310.2 414 L310.4 415.1 L310.9 416.1 L311.1 417.2 L311.3 418.3 L311.5 419.4 L311.6 420.5 L311.5 421.6 L311.6 422.7 L312.1 423.7 L312.5 424.8 L312.4 425.9 L312.3 427 L313.1 428 L312.9 429.2 L312.9 430.3 L313.5 431.3 L313.5 432.4 L313.6 433.5 L313.8 434.6 L314.3 435.6 L314.1 436.8 L314.4 437.8 L314.6 438.9 L314.8 440 L314.9 441.1 L315.2 442.2 L315.2 443.3 L315.9 444.3 L316.1 445.4 L316.2 446.5 L316.2 447.6 L316.2 448.7 L316.3 449.8 L317 450.8 L317.2 451.9 L317.2 453 L317.2 454.1 L317.5 455.2 L317.7 456.2 L317.9 457.3 L317.8 458.4 L318.1 459.5 L318 460.6 L318.6 461.7 L318.7 462.8 L318.5 463.9 L318.9 465 L319.3 466 L319.2 467.1 L319.5 468.2 L319.9 469.3 L320.1 470.3 L320 471.5 L320.3 472.5 L320.5 473.6 L320.4 474.7 L320.9 475.8 L321.1 476.9 L321.3 477.9 L321.8 478.9 L321.6 480.1 L322.2 481.1 L322.6 482.1 L322.7 483.3 L323.1 484.3 L323.5 485.3 L323.8 486.4 L324.2 487.4 L324.3 488.5 L324.7 489.5 L325.1 490.6 L325.4 491.6 L325.4 492.8 L326 493.8 L326.3 494.8 L327 495.7 L326.9 496.9 L327.8 497.8 L327.8 498.9 L328.3 499.9 L328.9 500.9 L329.3 501.9 L329.7 502.9 L330.2 503.9 L330.5 505 L331.4 505.8 L331.9 506.7 L332.2 507.8 L332.9 508.7 L333.3 509.7 L334 510.6 L334.8 511.3 L335.1 512.5 L336 513.2 L336.6 514.1 L337.1 515.1 L337.8 516 L338.5 516.8 L339.2 517.7 L340.3 518.2 L341.1 518.9 L341.8 519.7 L342.5 520.6 L343.5 521.2 L344.4 521.8 L345.3 522.5 L346.4 522.8 L347.2 523.5 L348.3 523.9 L349.1 524.6 L350.3 524.8 L351.2 525.3 L352.2 525.8 L353.2 526.3 L354.2 526.7 L355.3 527.1 L356.4 527.1 L357.3 527.9 L358.5 527.7 L359.5 528.4 L360.6 528.5 L361.7 528.6 L362.7 529.1 L363.8 529.2 L364.9 529.6 L365.8 530" stroke="#000080" stroke-width="2.6" fill="none" stroke-linejoin="round" stroke-linecap="round"/>
<path d="M47.8 532.3 L48.9 532.1 L50 532.3 L51.1 532.1 L52.2 532 L53.3 532.1 L54.4 532.1 L55.5 532.1 L56.6 532 L57.7 531.9 L58.8 531.9 L59.9 532.1 L61 531.8 L62.1 532 L63.2 532.1 L64.3 532.1 L65.4 532.1 L66.5 531.6 L67.6 531.6 L68.7 531.9 L69.8 531.8 L70.9 531.5 L72 531.8 L73.1 531.8 L74.2 531.8 L75.3 531.4 L76.4 531.4 L77.5 531.2 L78.6 531.8 L79.7 531.3 L80.8 531.6 L81.9 531.4 L83 531.4 L84.1 531.3 L85.2 531.5 L86.3 531.3 L87.4 531.1 L88.5 531 L89.6 531.2 L90.7 531.4 L91.8 530.9 L92.9 531.2 L94 531.1 L95.1 530.8 L96.2 530.8 L97.3 531.1 L98.4 530.9 L99.5 530.8 L100.6 530.9 L101.7 530.6 L102.8 530.9 L103.9 530.8 L105 530.8 L106.1 530.6 L107.2 530.9 L108.3 530.8 L109.4 530.6 L110.5 530.3 L111.6 530.3 L112.7 530.3 L113.8 530.2 L114.9 530.5 L116 530.4 L117.1 530.2 L118.2 530.6 L119.3 530.3 L120.4 530.4 L121.5 530.3 L122.6 530 L123.6 529.8 L124.8 529.9 L125.8 529.2 L126.9 529.3 L128 529.2 L129 528.7 L130.1 528.6 L131.1 527.9 L132.2 527.8 L133.2 527.4 L134.3 527.1 L135.4 527 L136.3 526.3 L137.4 526.1 L138.6 526 L139.5 525.3 L140.5 524.9 L141.7 525 L142.7 524.4 L143.6 523.8 L144.7 523.7 L145.7 523.1 L146.7 522.7 L147.9 522.6 L148.9 522.2 L149.9 521.8 L151 521.5 L152 521.3 L153.1 521 L154.2 520.6 L155.3 520.9 L156.4 520.8 L157.5 520.5 L158.6 520.5 L159.7 520.6 L160.8 520.5 L161.8 520.8 L162.6 521.6 L163.5 522.2 L164.7 522.4 L165.6 523.1 L166.4 524 L167.3 524.6 L168.3 525 L169.5 525.1 L170.5 525.3 L171.5 526 L172.6 526.3 L173.7 526.4 L174.8 526.5 L175.8 526.8 L177 526.7 L178 527.1 L179.2 526.9 L180.3 526.9 L181.3 527.5 L182.4 527.5 L183.5 527.6 L184.6 527.3 L185.7 527.5 L186.8 527.7 L187.9 527.4 L189 527.6 L190.1 527.8 L191.2 528.1 L192.3 527.9 L193.4 527.8 L194.5 527.8 L195.6 527.8 L196.7 527.9 L197.8 527.9 L198.9 527.3 L200 527.7 L201.1 527.4 L202.1 526.8 L203.2 526.8 L204.3 526.6 L205.4 526.3 L206.5 526.1 L207.5 525.8 L208.7 525.9 L209.7 525.5 L210.7 525 L211.9 525.1 L212.9 524.7 L213.8 524 L215 523.9 L215.9 523.4 L216.9 522.7 L217.7 521.9 L218.8 521.7 L219.8 521.1 L220.7 520.5 L221.6 519.9 L222.2 518.9 L223.3 518.5 L223.9 517.4 L224.8 516.9 L225.6 516.1 L226.4 515.4 L227.1 514.5 L227.9 513.7 L228.4 512.7 L228.8 511.7 L229.1 510.6 L229.3 509.5 L229.4 508.4 L230.1 507.4 L230.6 506.5 L230.5 505.3 L231.3 504.4 L231.1 503.1 L231.6 502.2 L232.2 501.2 L232.5 500.1 L232.8 499.1 L233.1 498 L233.7 497.1 L234.1 496 L234.8 495.2 L235 494 L235.5 493.1 L236.3 492.2 L236.6 491.1 L236.8 490 L237.5 489.1 L238.2 488.3 L238.4 487.1 L238.7 486.1 L239.1 485 L239.7 484.1 L240 483.1 L240.5 482 L240.8 481 L241.5 480.1 L242 479.1 L242.3 478 L242.8 477.1 L243.1 476 L243.9 475.1 L243.9 474 L244.7 473.1 L244.7 471.9 L245.5 471 L246.1 470.1 L246.3 469 L246.6 467.9 L247 466.9 L247.9 466.1 L248.4 465.1 L248.4 463.9 L249 463 L249.7 462.1 L250.1 461.1 L250.1 459.9 L250.9 459 L251.1 457.9 L251.4 456.8 L252.2 455.9 L252.4 454.9 L252.6 453.8 L253.3 452.8 L253.4 451.7 L253.7 450.6 L254 449.6 L254.3 448.5 L255 447.6 L255 446.5 L255.7 445.5 L255.9 444.4 L256.1 443.3 L256.7 442.4 L256.7 441.2 L256.9 440.1 L257.6 439.2 L257.6 438 L258.4 437.1 L258.8 436.1 L258.8 434.9 L258.9 433.8 L259.8 433 L259.8 431.8 L260.5 430.9 L260.7 429.8 L261.3 428.9 L261.7 427.8 L261.7 426.7 L262.3 425.7 L262.7 424.7 L263 423.6 L263.8 422.7 L263.8 421.6 L264.1 420.5 L264.5 419.5 L264.8 418.4 L265.5 417.5 L265.5 416.3 L266 415.3 L266 414.2 L266.7 413.3 L267 412.2 L267.4 411.2 L267.2 410 L267.9 409 L268.3 408 L268.4 406.9 L268.9 405.9 L269 404.8 L269.4 403.7 L269.9 402.7 L270.2 401.7 L270.2 400.5 L270.5 399.5 L271.2 398.5 L271.1 397.4 L271.5 396.3 L271.8 395.3 L272 394.2 L272.4 393.2 L272.5 392 L272.9 391 L273.3 390 L273.7 388.9 L273.8 387.8 L273.9 386.7 L274.2 385.7 L274.4 384.6 L274.6 383.5 L275 382.5 L275.3 381.4 L275.9 380.4 L276 379.3 L276.4 378.3 L276.4 377.1 L276.5 376 L277 375 L277.3 374 L277.8 372.9 L277.6 371.8 L278.2 370.8 L278.6 369.7 L278.5 368.6 L278.8 367.5 L278.9 366.4 L279.5 365.4 L279.4 364.3 L280.1 363.3 L280.4 362.3 L280.7 361.2 L281 360.1 L280.8 359 L281.6 358 L281.8 356.9 L282.2 355.9 L282.4 354.8 L282.5 353.7 L283 352.7 L282.9 351.6 L283.6 350.6 L283.7 349.5 L284.1 348.5 L284.3 347.4 L284.6 346.3 L284.7 345.2 L285.3 344.2 L285.4 343.1 L285.5 342 L286.2 341 L286.4 340 L286.6 338.9 L287.2 337.9 L287.3 336.8 L287.8 335.8 L288 334.7 L288.3 333.6 L288.7 332.6 L289.2 331.6 L289.3 330.5 L289.8 329.5 L290.3 328.5 L290.9 327.6 L291.1 326.5 L292 325.7 L292.3 324.6 L293.2 323.9 L293.7 322.8 L294.7 322.4 L295.6 321.8 L296.6 321.3 L297.5 320.9 L298.6 320.6 L299.6 321.2 L300.7 321.3 L301.4 322.2 L302.2 322.9 L303.1 323.6 L303.5 324.7 L304 325.7 L304.3 326.8 L305 327.7 L305 328.8 L305.8 329.7 L306.1 330.8 L306.1 331.9 L306.2 333.1 L306.6 334.1 L307.1 335.1 L307 336.2 L307.4 337.3 L308 338.3 L308.2 339.3 L308.3 340.5 L308.5 341.5 L308.7 342.6 L308.8 343.7 L309.2 344.8 L309.2 345.9 L309.8 346.9 L310 348 L310.1 349.1 L310.2 350.2 L310.7 351.2 L311.1 352.2 L311.2 353.3 L311.5 354.4 L311.3 355.6 L311.9 356.6 L312 357.7 L312.1 358.8 L312.6 359.8 L312.8 360.9 L312.8 362 L313.1 363 L313.4 364.1 L313.2 365.3 L313.4 366.3 L313.7 367.4 L314.1 368.5 L313.9 369.6 L314 370.7 L314.7 371.7 L314.5 372.9 L315.1 373.9 L315.2 375 L315.3 376.1 L315.1 377.2 L315.5 378.3 L315.7 379.4 L315.6 380.5 L316.1 381.5 L316.4 382.6 L316.6 383.7 L316.7 384.8 L316.7 385.9 L316.7 387 L316.9 388.1 L317.5 389.1 L317.4 390.2 L317.9 391.2 L318 392.3 L318.5 393.4 L318.2 394.5 L318.6 395.6 L318.8 396.7 L319.1 397.7 L319.5 398.8 L319.5 399.9 L319.9 400.9 L320.1 402 L320.5 403.1 L320.8 404.1 L320.7 405.3 L321.1 406.3 L321.5 407.4 L321.5 408.5 L321.6 409.6 L321.9 410.6 L322.1 411.7 L321.9 412.9 L322.2 413.9 L322.4 415 L322.4 416.1 L322.9 417.2 L322.8 418.3 L322.7 419.4 L323.3 420.4 L323.2 421.6 L323.6 422.6 L323.7 423.7 L323.8 424.8 L324.1 425.9 L324.2 427 L324.3 428.1 L324.4 429.2 L324.6 430.3 L324.7 431.4 L325 432.4 L325 433.5 L325 434.6 L325.4 435.7 L325.6 436.8 L325.5 437.9 L325.8 439 L326 440 L326.3 441.1 L326.1 442.3 L326.8 443.3 L326.5 444.4 L327.1 445.5 L326.9 446.6 L327.6 447.6 L327.4 448.7 L327.7 449.8 L327.8 450.9 L328.3 451.9 L328.3 453 L328.5 454.1 L328.6 455.2 L328.7 456.3 L328.7 457.4 L329.3 458.5 L329.6 459.5 L329.8 460.6 L329.5 461.8 L329.9 462.8 L330.1 463.9 L330.1 465 L330.4 466.1 L330.7 467.1 L330.8 468.2 L331.4 469.2 L331.2 470.4 L331.8 471.4 L331.6 472.6 L331.9 473.6 L332.3 474.7 L332.7 475.7 L333.1 476.8 L333.1 477.9 L333.5 478.9 L333.7 480 L334.1 481 L334.4 482.1 L334.2 483.3 L334.5 484.3 L334.9 485.4 L335.2 486.4 L335.3 487.5 L335.8 488.6 L336 489.6 L336.7 490.6 L337 491.6 L336.9 492.8 L337.4 493.8 L337.8 494.8 L337.8 496 L338.4 496.9 L338.7 498 L338.8 499.1 L339.5 500.1 L339.6 501.2 L340.2 502.1 L340.6 503.2 L341 504.2 L341.5 505.2 L342 506.2 L342.3 507.2 L342.9 508.2 L343.6 509.1 L344 510.1 L344.9 510.8 L345.4 511.8 L345.9 512.8 L346.5 513.7 L347.1 514.7 L348.2 515.2 L348.9 516 L349.6 516.9 L350 518 L350.9 518.7 L352 519.2 L352.8 519.8 L353.6 520.6 L354.3 521.5 L355.2 522.1 L356.2 522.6 L357 523.4 L358 523.9 L359.2 524.1 L360.1 524.6 L360.9 525.5 L361.9 525.9 L362.9 526.4 L364 526.7 L364.8 527.4 L366.1 527.6 L366.4 528.8 L366.8 529.8 L366.3 531 L366.5 532" stroke="#800000" stroke-width="2.6" fill="none" stroke-linejoin="round" stroke-linecap="round"/>
<path d="M47.8 524.2 L48.9 523.9 L49.9 523.6 L50.8 522.9 L51.9 522.6 L52.9 522.2 L54.1 522.4 L55.1 521.7 L56.2 521.4 L57.3 521.5 L58.4 521.6 L59.5 521.8 L60.6 522 L61.7 522.2 L62.7 522.7 L63.8 522.9 L64.8 523.4 L65.9 523.4 L67 523.6 L68 523.9 L69.1 524.4 L70.2 524.4 L71.2 524.8 L72.3 524.9 L73.5 524.7 L74.6 524.6 L75.6 525.3 L76.7 525.5 L77.8 525.3 L78.9 525.7 L80 525.5 L81 526.1 L82.1 526.2 L83.2 526.3 L84.3 526.6 L85.5 526.2 L86.5 526.6 L87.6 526.9 L88.7 527 L89.8 526.7 L90.9 526.5 L92 526.8 L92.9 526 L94.1 525.9 L94.4 524.7 L95.4 524.1 L96 523.2 L96.3 522.1 L97.1 521.3 L97.7 520.4 L98.2 519.4 L99.1 518.6 L99.6 517.7 L100.2 516.8 L100.3 515.5 L100.7 514.5 L101.5 513.7 L101.9 512.6 L102.9 512 L103.3 510.9 L103.9 509.9 L105 509.4 L106 509.8 L106.4 510.9 L107.1 511.7 L107.6 512.7 L107.8 513.8 L108.7 514.6 L109 515.7 L109 516.9 L109.4 517.9 L110.2 518.8 L110.7 519.8 L110.8 520.9 L111.2 521.9 L112.1 522.6 L112.5 523.7 L113.3 524.4 L114.2 525 L115 525.7 L115.9 526.3 L116.9 526.8 L118 526.8 L119 527.4 L120.1 527.8 L121.2 527.7 L122.3 527.2 L123.4 527.6 L124.5 527.5 L125.3 526.6 L126.4 526.4 L127.3 525.8 L128.2 525.2 L128.9 525 L129.9 525.2 L130.6 526 L131.5 526.9 L132.6 526.3 L133.6 526 L134.3 525.1 L135.4 524.8 L136.1 523.9 L136.5 522.8 L137.1 521.9 L137.8 521 L138.6 520.2 L138.6 519 L139.3 518.1 L139.8 517.1 L140 516 L140.8 515.1 L141 514 L141.5 513.1 L141.7 512 L142.2 511.2 L142.8 512 L142.9 513.1 L143.2 514.1 L143.3 515.2 L143.9 516.2 L143.5 517.4 L144.2 518.4 L144.3 519.5 L144.4 520.7 L145.1 521.6 L145.3 522.7 L146.4 523.3 L146.9 524.3 L147.8 524.9 L148.7 525.6 L149.6 526.1 L150.6 526.5 L151.7 526.9 L152.9 526.6 L153.4 525.4 L154.5 525 L155.1 524.1 L155.6 523.1 L155.9 522 L156.6 521.1 L157 520.1 L157.5 519.1 L158.1 518.2 L158.5 517.1 L159.1 516.2 L159.8 515.3 L160.9 514.8 L161.2 513.6 L162 513.6 L163 513.9 L163.2 515.1 L163.8 516 L164.2 517 L164.7 517.9 L164.9 519.1 L165.5 520 L166.3 520.8 L166.4 522 L167.1 522.9 L168 523.5 L168.7 524.5 L169.7 525 L170.9 524.9 L171.9 525 L173 525.3 L174.1 525.6 L175.2 525.6 L176.3 525.4 L177.4 525.8 L178.5 526 L179.6 526.1 L180.7 526 L181.7 526.4 L182.9 526.3 L184 526 L185 526.1 L186.2 526.3 L187.2 525.6 L188.3 525.5 L189.3 525 L190.4 525 L191.5 524.9 L192.5 524.3 L193.7 524.3 L194.8 524.2 L195.9 524.3 L197 524.7 L198.1 524.6 L199.2 525 L200.2 524.5 L201.3 524.4 L202.3 523.7 L203.3 523.5 L204.4 523.1 L205.3 522.6 L206.4 522.3 L207.1 521.4 L208 520.6 L209.1 520.9 L210.1 521.5 L210.7 522.4 L211 523.5 L212.2 523.8 L212.9 524.8 L214.1 524.7 L215.2 524.5 L216.2 525 L217.3 525.3 L218.4 525.1 L219.5 525.2 L220.7 525.2 L221.7 524.6 L222.8 524.7 L224 524.9 L225 524.6 L226.2 525 L227.2 524.5 L228.3 524.2 L229.4 524.2 L230.5 524.4 L231.6 524 L232.7 524.4 L233.9 524.5 L235 524 L236.1 523.7 L236.4 522.5 L237 521.5 L237.6 520.6 L238.6 519.9 L238.3 518.6 L238.6 517.6 L239.6 516.8 L240.1 516.1 L240.7 516.3 L241.5 517.1 L241.8 518.2 L241.7 519.4 L242.2 520.4 L243 521.2 L243.3 522.4 L244.5 522.7 L245.6 522.8 L246.5 523.7 L247.7 522.9 L248.8 523.2 L249.9 523 L251 523.3 L252.1 523 L253.1 522.7 L254.3 522.9 L255.3 522.3 L256.5 522.9 L257.5 522.5 L258.5 521.9 L259.7 522 L260.7 521.5 L261.8 521.5 L262.8 521 L263.9 520.7 L265 520.6 L266 520 L267.2 520.3 L268.2 519.9 L269.1 519.1 L270.2 518.9 L271.2 518.2 L272.2 517.8 L273.2 517.5 L274.3 517.3 L275.1 516.4 L276.4 516.5 L277.1 515.5 L278 514.9 L279.1 514.5 L280.2 514.1 L280.8 513.1 L281.7 512.5 L282.8 512 L283.2 510.9 L283.7 509.9 L284.3 509 L285.2 508.2 L285.8 507.4 L286.4 506.4 L286.6 505.3 L287 504.2 L288.3 503.7 L288.5 502.6 L289.1 501.6 L289.6 500.6 L289.8 499.5 L290.1 498.4 L291.1 497.6 L291.4 496.6 L291.2 495.3 L292 494.5 L292.3 493.4 L292.3 492.2 L293 491.3 L293.4 490.3 L293.6 489.2 L293.8 488.1 L294.6 487.2 L294.7 486.1 L294.7 484.9 L295.4 484 L295.9 483 L295.8 481.8 L296.3 480.8 L296.2 479.6 L296.6 478.6 L297.5 477.7 L297.8 476.7 L298.1 475.6 L297.9 474.4 L298.6 473.5 L298.6 472.3 L298.8 471.2 L299.6 470.3 L299.3 469.1 L299.5 468 L300 467 L300 465.9 L300.5 464.9 L300.9 463.8 L301 462.7 L301.5 461.7 L301.3 460.6 L301.2 459.4 L301.7 458.4 L301.5 457.2 L302.2 456.2 L302 455.1 L302.4 454 L302.6 453 L303.2 451.9 L302.7 450.7 L303.1 449.7 L303.3 448.6 L303.7 447.6 L303.8 446.5 L304.5 445.5 L304.6 444.4 L304.8 443.3 L304.8 442.2 L305.2 441.1 L305.2 440 L305.1 438.9 L305.3 437.8 L305.5 436.7 L306.1 435.7 L306.3 434.6 L306 433.4 L306.4 432.4 L306.4 431.3 L306.9 430.3 L306.9 429.2 L307.2 428.1 L307.3 427 L307.5 425.9 L307.7 424.8 L308.2 423.8 L307.8 422.6 L308.5 421.6 L308.5 420.5 L308.8 419.4 L308.5 418.3 L308.8 417.2 L309.4 416.2 L309.6 415.1 L309.2 413.9 L309.5 412.9 L309.6 411.8 L309.7 410.7 L310.4 409.6 L310.2 408.5 L310.3 407.4 L310.8 406.4 L310.8 405.3 L311.1 404.2 L311 403.1 L311 402 L310.9 400.8 L311.3 399.8 L311.5 398.7 L311.7 397.6 L312 396.5 L311.7 395.4 L312 394.3 L312.4 393.3 L312.6 392.2 L312.6 391.1 L312.3 389.9 L312.9 388.9 L312.9 387.8 L312.7 386.7 L313.1 385.6 L313.4 384.5 L313.6 383.4 L313.3 382.3 L313.6 381.2 L313.9 380.2 L313.7 379 L314.3 378 L314.5 376.9 L314.5 375.8 L315 374.8 L314.7 373.6 L314.8 372.5 L315.6 371.5 L315.5 370.4 L315.2 369.2 L315.7 368.2 L315.8 367.1 L316.4 366.1 L316.7 365 L316.2 363.8 L316.8 362.8 L317.2 361.7 L316.8 360.6 L317.2 359.5 L317.1 358.4 L317.6 357.3 L317.9 356.3 L318.2 355.2 L318.1 354.1 L318.6 353.1 L318.8 352 L318.8 350.9 L319.1 349.8 L319.6 348.8 L319.8 347.7 L319.7 346.6 L320.3 345.6 L320.2 344.4 L320.5 343.3 L320.5 342.2 L321 341.2 L320.9 340.1 L321.7 339.1 L321.7 338 L321.9 336.9 L322.6 336.1 L322.9 336.1 L323.5 336.3 L324.1 335.3 L324.1 334.2 L324.5 333.1 L324.2 332 L324.8 331 L325.2 329.9 L325 328.7 L325.5 327.7 L325.9 326.7 L325.9 325.6 L326.3 324.5 L326 323.3 L326.4 322.3 L327.3 321.6 L327.9 321.7 L328.8 322.4 L328.8 323.6 L329.7 324.4 L329.9 325.5 L330.5 326.5 L331.2 327.3 L331.8 328.2 L331.8 329.4 L332 330.5 L332.9 331.4 L332.9 332.5 L333.1 333.6 L333.2 334.7 L334.1 335.6 L333.7 336.8 L334.1 337.9 L334.2 339 L335 339.9 L335 341.1 L335.1 342.2 L335.1 343.3 L335.7 344.3 L335.5 345.5 L336 346.5 L335.8 347.6 L336 348.7 L336.8 349.7 L336.9 350.8 L337 351.9 L337 353 L337 354.1 L337.2 355.2 L337.6 356.2 L337.9 357.3 L337.8 358.4 L337.5 359.6 L338.3 360.6 L338.4 361.7 L338.3 362.8 L338.7 363.9 L338.4 365 L338.8 366.1 L339.2 367.1 L339 368.3 L339 369.4 L339.2 370.5 L339.6 371.5 L339.2 372.7 L340 373.7 L340.2 374.8 L340.1 375.9 L339.8 377 L340.2 378.1 L340.2 379.2 L340.5 380.3 L340.7 381.4 L340.7 382.5 L341.1 383.5 L340.9 384.7 L341.2 385.7 L340.8 386.9 L341.1 388 L341.6 389 L341.2 390.2 L341.9 391.2 L341.4 392.3 L341.9 393.4 L341.7 394.5 L342 395.6 L342.2 396.7 L342.4 397.8 L342.3 398.9 L342.5 400 L342.9 401 L342.7 402.2 L342.8 403.3 L342.6 404.4 L343.3 405.4 L343.4 406.5 L343.6 407.6 L343.4 408.7 L343.5 409.8 L343.7 410.9 L344 412 L343.5 413.1 L344.3 414.2 L343.9 415.3 L344.4 416.4 L344.3 417.5 L344.5 418.6 L344.5 419.7 L345 420.7 L345 421.8 L345.3 422.9 L344.9 424.1 L345.6 425.1 L345.2 426.2 L345.7 427.3 L345.9 428.4 L345.5 429.5 L345.7 430.6 L346.3 431.6 L346.4 432.7 L346.1 433.9 L346.6 434.9 L346.5 436.1 L346.8 437.1 L346.9 438.2 L347.3 439.3 L347.2 440.4 L347.1 441.5 L347.9 442.5 L347.8 443.6 L348 444.7 L348.5 445.8 L348.5 446.9 L348.7 447.9 L348.5 449.1 L348.7 450.2 L349 451.3 L349.4 452.3 L349.3 453.4 L349.5 454.5 L349.8 455.6 L350.5 456.6 L350.6 457.7 L350.3 458.8 L351 459.8 L351 461 L350.9 462.1 L351.6 463.1 L351.7 464.2 L352 465.2 L352.1 466.3 L352.4 467.4 L352.8 468.4 L352.4 469.6 L353.1 470.6 L352.9 471.8 L353.5 472.8 L354 473.8 L354.2 474.9 L354.3 476 L354.1 477.2 L354.8 478.1 L355.4 479.1 L355.4 480.2 L355.7 481.3 L355.8 482.4 L356.5 483.4 L356.7 484.5 L357.1 485.5 L357.3 486.6 L357.4 487.7 L357.5 488.8 L358.4 489.7 L358.7 490.7 L359 491.8 L359.2 492.9 L359.2 494.1 L359.5 495.1 L360.3 496 L360.3 497.2 L361.2 498 L361.5 499 L362.1 500 L362.3 501.1 L362.9 502 L362.9 503.2 L363.5 504.2 L364.2 505.1 L364.9 505.9 L365.8 506.6 L366.2 507.7 L366.2 508.8 L366.6 509.8 L366.5 511 L366.8 512 L366.5 513.2 L366.4 514.3 L366.6 515.4 L366.9 516.4 L366.9 517.6 L366.8 518.7 L366.8 519.8 L366.4 520.8 L367 522 L366.6 523 L366.9 524.2 L366.6 525.3 L366.4 526.3 L366.6 527.5 L366.8 528.6 L366.5 529.6 L366.7 530.8 L366.5 531.5" stroke="#008000" stroke-width="2.6" fill="none" stroke-linejoin="round" stroke-linecap="round"/>
<rect x="47.2" y="299.7" width="334.7" height="243.9" fill="none" stroke="#000" stroke-width="1.8"/>
<line x1="47.3" y1="543.6" x2="47.3" y2="546.2" stroke="#000" stroke-width="1.6"/>
<line x1="68.2" y1="543.6" x2="68.2" y2="547.9" stroke="#000" stroke-width="1.6"/>
<text transform="translate(68.20,560.00) scale(1,1.06)" style="font-size:11.2px" text-anchor="middle" >500</text>
<line x1="89.1" y1="543.6" x2="89.1" y2="546.2" stroke="#000" stroke-width="1.6"/>
<line x1="110.0" y1="543.6" x2="110.0" y2="547.9" stroke="#000" stroke-width="1.6"/>
<text transform="translate(110.00,560.00) scale(1,1.06)" style="font-size:11.2px" text-anchor="middle" >550</text>
<line x1="130.9" y1="543.6" x2="130.9" y2="546.2" stroke="#000" stroke-width="1.6"/>
<line x1="151.8" y1="543.6" x2="151.8" y2="547.9" stroke="#000" stroke-width="1.6"/>
<text transform="translate(151.80,560.00) scale(1,1.06)" style="font-size:11.2px" text-anchor="middle" >600</text>
<line x1="172.7" y1="543.6" x2="172.7" y2="546.2" stroke="#000" stroke-width="1.6"/>
<line x1="193.6" y1="543.6" x2="193.6" y2="547.9" stroke="#000" stroke-width="1.6"/>
<text transform="translate(193.60,560.00) scale(1,1.06)" style="font-size:11.2px" text-anchor="middle" >650</text>
<line x1="214.5" y1="543.6" x2="214.5" y2="546.2" stroke="#000" stroke-width="1.6"/>
<line x1="235.4" y1="543.6" x2="235.4" y2="547.9" stroke="#000" stroke-width="1.6"/>
<text transform="translate(235.40,560.00) scale(1,1.06)" style="font-size:11.2px" text-anchor="middle" >700</text>
<line x1="256.3" y1="543.6" x2="256.3" y2="546.2" stroke="#000" stroke-width="1.6"/>
<line x1="277.2" y1="543.6" x2="277.2" y2="547.9" stroke="#000" stroke-width="1.6"/>
<text transform="translate(277.20,560.00) scale(1,1.06)" style="font-size:11.2px" text-anchor="middle" >750</text>
<line x1="298.1" y1="543.6" x2="298.1" y2="546.2" stroke="#000" stroke-width="1.6"/>
<line x1="319.0" y1="543.6" x2="319.0" y2="547.9" stroke="#000" stroke-width="1.6"/>
<text transform="translate(319.00,560.00) scale(1,1.06)" style="font-size:11.2px" text-anchor="middle" >800</text>
<line x1="339.9" y1="543.6" x2="339.9" y2="546.2" stroke="#000" stroke-width="1.6"/>
<line x1="360.8" y1="543.6" x2="360.8" y2="547.9" stroke="#000" stroke-width="1.6"/>
<text transform="translate(360.80,560.00) scale(1,1.06)" style="font-size:11.2px" text-anchor="middle" >850</text>
<line x1="381.7" y1="543.6" x2="381.7" y2="546.2" stroke="#000" stroke-width="1.6"/>
<line x1="47.2" y1="532.7" x2="42.9" y2="532.7" stroke="#000" stroke-width="1.6"/>
<text transform="translate(40.40,535.80) scale(1,1.06)" style="font-size:11.2px" text-anchor="end" >0.0</text>
<line x1="47.2" y1="511.5" x2="44.6" y2="511.5" stroke="#000" stroke-width="1.6"/>
<line x1="47.2" y1="490.3" x2="42.9" y2="490.3" stroke="#000" stroke-width="1.6"/>
<text transform="translate(40.40,493.38) scale(1,1.06)" style="font-size:11.2px" text-anchor="end" >0.2</text>
<line x1="47.2" y1="469.1" x2="44.6" y2="469.1" stroke="#000" stroke-width="1.6"/>
<line x1="47.2" y1="447.9" x2="42.9" y2="447.9" stroke="#000" stroke-width="1.6"/>
<text transform="translate(40.40,450.96) scale(1,1.06)" style="font-size:11.2px" text-anchor="end" >0.4</text>
<line x1="47.2" y1="426.7" x2="44.6" y2="426.7" stroke="#000" stroke-width="1.6"/>
<line x1="47.2" y1="405.4" x2="42.9" y2="405.4" stroke="#000" stroke-width="1.6"/>
<text transform="translate(40.40,408.54) scale(1,1.06)" style="font-size:11.2px" text-anchor="end" >0.6</text>
<line x1="47.2" y1="384.2" x2="44.6" y2="384.2" stroke="#000" stroke-width="1.6"/>
<line x1="47.2" y1="363.0" x2="42.9" y2="363.0" stroke="#000" stroke-width="1.6"/>
<text transform="translate(40.40,366.12) scale(1,1.06)" style="font-size:11.2px" text-anchor="end" >0.8</text>
<line x1="47.2" y1="341.8" x2="44.6" y2="341.8" stroke="#000" stroke-width="1.6"/>
<line x1="47.2" y1="320.6" x2="42.9" y2="320.6" stroke="#000" stroke-width="1.6"/>
<text transform="translate(40.40,323.70) scale(1,1.06)" style="font-size:11.2px" text-anchor="end" >1.0</text>
<line x1="47.2" y1="299.4" x2="44.6" y2="299.4" stroke="#000" stroke-width="1.6"/>
<line x1="86.2" y1="307.0" x2="114" y2="307.0" stroke="#000" stroke-width="2.6"/>
<text transform="translate(120.20,310.80) scale(1,1.05)" style="font-size:11.35px" text-anchor="start" >FAPbBr<tspan class="subb" dx="1.1" dy="4.6" style="font-size:11.2px">3</tspan></text>
<line x1="86.2" y1="327.5" x2="114" y2="327.5" stroke="#ff0000" stroke-width="2.6"/>
<text transform="translate(120.20,331.30) scale(1,1.05)" style="font-size:11.35px" text-anchor="start" >FAPbBr<tspan class="subb" dx="1.1" dy="4.6" style="font-size:11.2px">2.2</tspan><tspan dy="-4.6">I</tspan><tspan class="subb" dy="4.6" style="font-size:11.2px">0.8</tspan></text>
<line x1="86.2" y1="348.0" x2="114" y2="348.0" stroke="#0000ff" stroke-width="2.6"/>
<text transform="translate(120.20,351.80) scale(1,1.05)" style="font-size:11.35px" text-anchor="start" >FAPbBr<tspan class="subb" dx="1.1" dy="4.6" style="font-size:11.2px">2</tspan><tspan dy="-4.6">I</tspan><tspan class="subb" dy="4.6" style="font-size:11.2px">1</tspan></text>
<line x1="86.2" y1="368.5" x2="114" y2="368.5" stroke="#008080" stroke-width="2.6"/>
<text transform="translate(120.20,372.30) scale(1,1.05)" style="font-size:11.35px" text-anchor="start" >FAPbBr<tspan class="subb" dx="1.1" dy="4.6" style="font-size:11.2px">1.8</tspan><tspan dy="-4.6">I</tspan><tspan class="subb" dy="4.6" style="font-size:11.2px">1.2</tspan></text>
<line x1="86.2" y1="389.0" x2="114" y2="389.0" stroke="#ff00ff" stroke-width="2.6"/>
<text transform="translate(120.20,392.80) scale(1,1.05)" style="font-size:11.35px" text-anchor="start" >FAPbBr<tspan class="subb" dx="1.1" dy="4.6" style="font-size:11.2px">1.6</tspan><tspan dy="-4.6">I</tspan><tspan class="subb" dy="4.6" style="font-size:11.2px">1.4</tspan></text>
<line x1="86.2" y1="409.5" x2="114" y2="409.5" stroke="#808000" stroke-width="2.6"/>
<text transform="translate(120.20,413.30) scale(1,1.05)" style="font-size:11.35px" text-anchor="start" >FAPbBr<tspan class="subb" dx="1.1" dy="4.6" style="font-size:11.2px">1.4</tspan><tspan dy="-4.6">I</tspan><tspan class="subb" dy="4.6" style="font-size:11.2px">1.6</tspan></text>
<line x1="86.2" y1="430.0" x2="114" y2="430.0" stroke="#000080" stroke-width="2.6"/>
<text transform="translate(120.20,433.80) scale(1,1.05)" style="font-size:11.35px" text-anchor="start" >FAPbBr<tspan class="subb" dx="1.1" dy="4.6" style="font-size:11.2px">1.2</tspan><tspan dy="-4.6">I</tspan><tspan class="subb" dy="4.6" style="font-size:11.2px">1.8</tspan></text>
<line x1="86.2" y1="450.5" x2="114" y2="450.5" stroke="#800000" stroke-width="2.6"/>
<text transform="translate(120.20,454.30) scale(1,1.05)" style="font-size:11.35px" text-anchor="start" >FAPbBr<tspan class="subb" dx="1.1" dy="4.6" style="font-size:11.2px">1</tspan><tspan dy="-4.6">I</tspan><tspan class="subb" dy="4.6" style="font-size:11.2px">2</tspan></text>
<line x1="86.2" y1="471.0" x2="114" y2="471.0" stroke="#008000" stroke-width="2.6"/>
<text transform="translate(120.20,474.80) scale(1,1.05)" style="font-size:11.35px" text-anchor="start" >FAPbI<tspan class="subb" dx="0.6" dy="4.6" style="font-size:11.2px">3</tspan></text>
<text transform="translate(0.50,318.60)" style="font-size:15.8px" text-anchor="start" class="pl" letter-spacing="0.6">(b)</text>
<text transform="translate(12.7,420.0) rotate(-90)" style="font-size:13.15px" text-anchor="middle">Normalized Intensity</text>
<text transform="translate(195.50,579.60)" style="font-size:13.1px" text-anchor="start" ><tspan class="lam">λ</tspan> / nm</text>
</svg></body></html>
